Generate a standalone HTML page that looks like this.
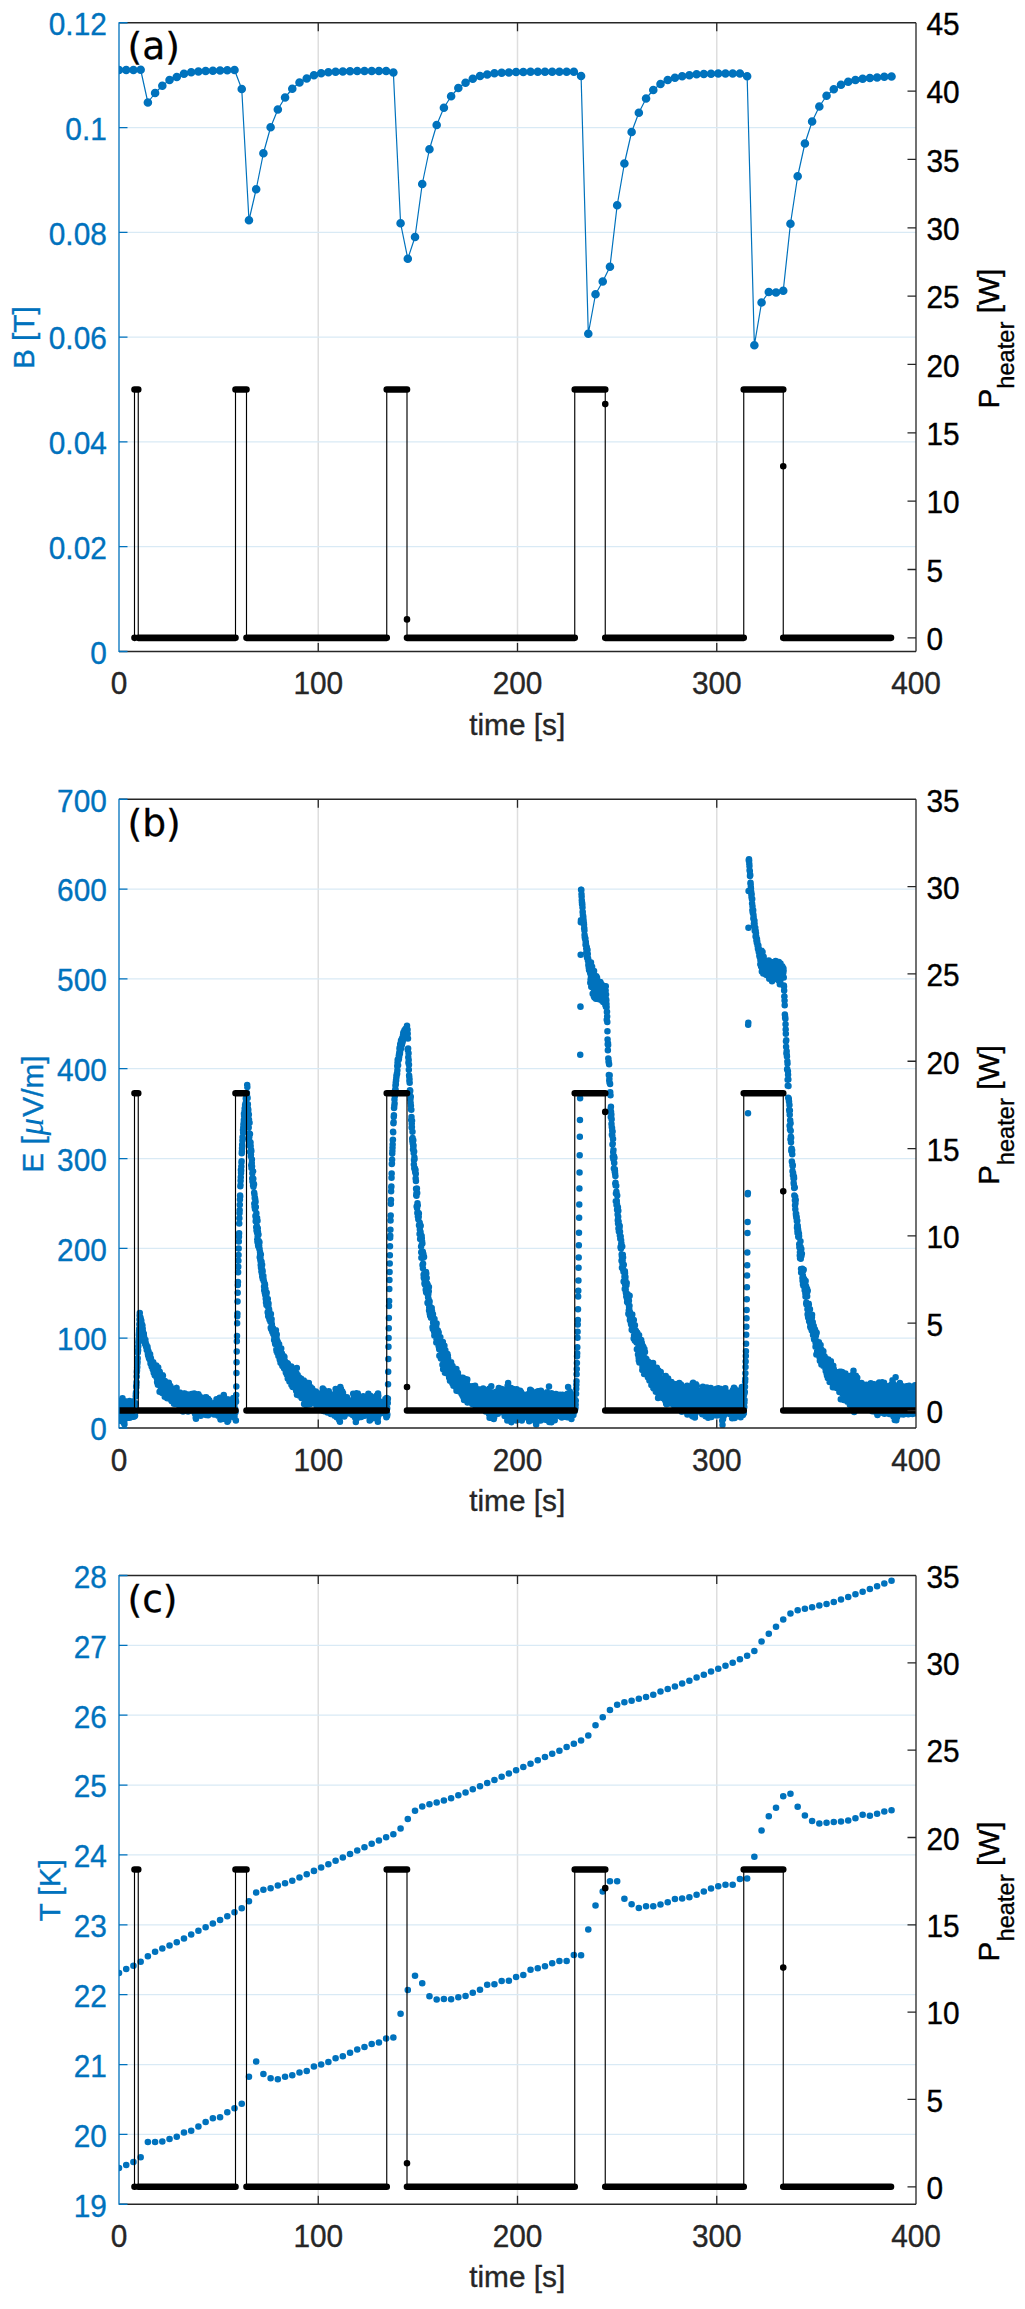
<!DOCTYPE html>
<html lang="en"><head><meta charset="utf-8"><title>Heater pulse response</title>
<style>html,body{margin:0;padding:0;background:#fff}svg{display:block}text{font-family:"Liberation Sans",Arial,Helvetica,sans-serif}.tk{font-size:29.8px;stroke-width:0.35px}.pl{font-family:"DejaVu Sans",Verdana,sans-serif;font-size:37.6px;fill:#000;stroke:#000;stroke-width:0.3px}.mu{font-family:"Liberation Serif","DejaVu Serif",serif;font-style:italic}</style></head><body>
<svg width="1025" height="2309" viewBox="0 0 1025 2309">
<rect width="1025" height="2309" fill="#fff"/>
<g id="panel-a">
<clipPath id="clip-a"><rect x="119" y="22.75" width="797" height="628.75"/></clipPath>
<path d="M318.25 22.75V651.5M517.5 22.75V651.5M716.75 22.75V651.5" stroke="#DEDEDE" stroke-width="1.5" fill="none"/>
<path d="M119 546.71H916M119 441.92H916M119 337.12H916M119 232.33H916M119 127.54H916" stroke="#D9EAF5" stroke-width="1.2" fill="none"/>
<g clip-path="url(#clip-a)">
<path d="M119 70 L126.22 70 L133.44 70 L140.66 69.75 L147.88 102.5 L155.1 93 L162.32 85.75 L169.54 80 L176.76 77 L183.98 73.75 L191.2 72.25 L198.42 71.5 L205.64 71 L212.86 70.75 L220.08 70.5 L227.3 70.25 L234.52 70 L241.74 89 L248.96 220.25 L256.18 189.25 L263.4 153.25 L270.62 127.25 L277.84 109.5 L285.06 97.5 L292.28 88.75 L299.5 82.5 L306.72 78.5 L313.94 75.25 L321.16 73.25 L328.38 72.25 L335.6 71.75 L342.82 71.5 L350.04 71.25 L357.26 71 L364.48 71 L371.7 71 L378.92 71 L386.14 71 L393.36 72.5 L400.58 223.25 L407.8 258.75 L415.02 237 L422.24 184 L429.46 149.25 L436.68 125 L443.9 107.75 L451.12 96.25 L458.34 88 L465.56 82.75 L472.78 78.75 L480 76 L487.22 74.5 L494.44 73.25 L501.66 72.75 L508.88 72.5 L516.1 72 L523.32 72 L530.54 71.75 L537.76 71.75 L544.98 71.75 L552.2 71.75 L559.42 71.75 L566.64 71.75 L573.86 71.75 L581.08 76 L588.3 333.75 L595.52 294.25 L602.74 281.5 L609.96 266.75 L617.18 205.25 L624.4 163.5 L631.62 132 L638.84 112.75 L646.06 98.5 L653.28 90 L660.5 84 L667.72 80 L674.94 77.75 L682.16 76.25 L689.38 75.25 L696.6 74.25 L703.82 74 L711.04 73.75 L718.26 73.5 L725.48 73.5 L732.7 73.5 L739.92 73.5 L747.14 76.25 L754.36 345.25 L761.58 302.5 L768.8 292 L776.02 292.5 L783.24 290.75 L790.46 223.75 L797.68 176.25 L804.9 143.5 L812.12 121.5 L819.34 106.5 L826.56 95.75 L833.78 89.25 L841 84.75 L848.22 81.75 L855.44 80 L862.66 78.75 L869.88 78 L877.1 77.5 L884.32 76.75 L891.54 76.5" stroke="#0072BD" stroke-width="1.2" fill="none" stroke-linejoin="round"/>
<path d="M119 70h0M126.22 70h0M133.44 70h0M140.66 69.75h0M147.88 102.5h0M155.1 93h0M162.32 85.75h0M169.54 80h0M176.76 77h0M183.98 73.75h0M191.2 72.25h0M198.42 71.5h0M205.64 71h0M212.86 70.75h0M220.08 70.5h0M227.3 70.25h0M234.52 70h0M241.74 89h0M248.96 220.25h0M256.18 189.25h0M263.4 153.25h0M270.62 127.25h0M277.84 109.5h0M285.06 97.5h0M292.28 88.75h0M299.5 82.5h0M306.72 78.5h0M313.94 75.25h0M321.16 73.25h0M328.38 72.25h0M335.6 71.75h0M342.82 71.5h0M350.04 71.25h0M357.26 71h0M364.48 71h0M371.7 71h0M378.92 71h0M386.14 71h0M393.36 72.5h0M400.58 223.25h0M407.8 258.75h0M415.02 237h0M422.24 184h0M429.46 149.25h0M436.68 125h0M443.9 107.75h0M451.12 96.25h0M458.34 88h0M465.56 82.75h0M472.78 78.75h0M480 76h0M487.22 74.5h0M494.44 73.25h0M501.66 72.75h0M508.88 72.5h0M516.1 72h0M523.32 72h0M530.54 71.75h0M537.76 71.75h0M544.98 71.75h0M552.2 71.75h0M559.42 71.75h0M566.64 71.75h0M573.86 71.75h0M581.08 76h0M588.3 333.75h0M595.52 294.25h0M602.74 281.5h0M609.96 266.75h0M617.18 205.25h0M624.4 163.5h0M631.62 132h0M638.84 112.75h0M646.06 98.5h0M653.28 90h0M660.5 84h0M667.72 80h0M674.94 77.75h0M682.16 76.25h0M689.38 75.25h0M696.6 74.25h0M703.82 74h0M711.04 73.75h0M718.26 73.5h0M725.48 73.5h0M732.7 73.5h0M739.92 73.5h0M747.14 76.25h0M754.36 345.25h0M761.58 302.5h0M768.8 292h0M776.02 292.5h0M783.24 290.75h0M790.46 223.75h0M797.68 176.25h0M804.9 143.5h0M812.12 121.5h0M819.34 106.5h0M826.56 95.75h0M833.78 89.25h0M841 84.75h0M848.22 81.75h0M855.44 80h0M862.66 78.75h0M869.88 78h0M877.1 77.5h0M884.32 76.75h0M891.54 76.5h0" stroke="#0072BD" stroke-width="8.6" stroke-linecap="round" fill="none"/>
<path d="M134.5 637.83V389.48M138.25 389.48V637.83M235.5 637.83V389.48M246.5 389.48V637.83M386.75 637.83V389.48M407 389.48V637.83M574.75 637.83V389.48M605.25 389.48V637.83M743.75 637.83V389.48M783.25 389.48V637.83" stroke="#000" stroke-width="1.15" fill="none"/>
<path d="M134.75 637.83H134.5M134.5 389.48H138.25M138.25 637.83H235.5M235.5 389.48H246.5M246.5 637.83H386.75M386.75 389.48H407M407 619.38h0M407 637.83H574.75M574.75 389.48H605.25M605.25 404.1h0M605.25 637.83H743.75M743.75 389.48H783.25M783.25 466.29h0M783.25 637.83H891" stroke="#000" stroke-width="6.6" stroke-linecap="round" fill="none"/>
</g>
<path d="M119 22.75H916M119 651.5H916M916 22.75V651.5M318.25 22.75v8.5M318.25 651.5v-8.5M517.5 22.75v8.5M517.5 651.5v-8.5M716.75 22.75v8.5M716.75 651.5v-8.5M916 637.83h-8.5M916 569.49h-8.5M916 501.15h-8.5M916 432.8h-8.5M916 364.46h-8.5M916 296.12h-8.5M916 227.78h-8.5M916 159.43h-8.5M916 91.09h-8.5M916 22.75h-8.5" stroke="#262626" stroke-width="1.3" fill="none"/>
<path d="M119 22.15V652.1M119 651.5h8.5M119 546.71h8.5M119 441.92h8.5M119 337.12h8.5M119 232.33h8.5M119 127.54h8.5M119 22.75h8.5" stroke="#0072BD" stroke-width="1.3" fill="none"/>
<g class="tk" fill="#0072BD" stroke="#0072BD" text-anchor="end">
<text transform="translate(106.8 663.8) scale(1 1.03)">0</text>
<text transform="translate(106.8 559.01) scale(1 1.03)">0.02</text>
<text transform="translate(106.8 454.22) scale(1 1.03)">0.04</text>
<text transform="translate(106.8 349.43) scale(1 1.03)">0.06</text>
<text transform="translate(106.8 244.63) scale(1 1.03)">0.08</text>
<text transform="translate(106.8 139.84) scale(1 1.03)">0.1</text>
<text transform="translate(106.8 35.05) scale(1 1.03)">0.12</text>
</g>
<g class="tk" fill="#000" stroke="#000">
<text transform="translate(926.4 650.13) scale(1 1.03)">0</text>
<text transform="translate(926.4 581.79) scale(1 1.03)">5</text>
<text transform="translate(926.4 513.45) scale(1 1.03)">10</text>
<text transform="translate(926.4 445.1) scale(1 1.03)">15</text>
<text transform="translate(926.4 376.76) scale(1 1.03)">20</text>
<text transform="translate(926.4 308.42) scale(1 1.03)">25</text>
<text transform="translate(926.4 240.08) scale(1 1.03)">30</text>
<text transform="translate(926.4 171.73) scale(1 1.03)">35</text>
<text transform="translate(926.4 103.39) scale(1 1.03)">40</text>
<text transform="translate(926.4 35.05) scale(1 1.03)">45</text>
</g>
<g class="tk" fill="#262626" stroke="#262626" text-anchor="middle">
<text transform="translate(119 694.2) scale(1 1.03)">0</text>
<text transform="translate(318.25 694.2) scale(1 1.03)">100</text>
<text transform="translate(517.5 694.2) scale(1 1.03)">200</text>
<text transform="translate(716.75 694.2) scale(1 1.03)">300</text>
<text transform="translate(916 694.2) scale(1 1.03)">400</text>
<text x="517.2" y="734.6">time [s]</text>
</g>
<text class="tk" fill="#0072BD" stroke="#0072BD" text-anchor="middle" transform="translate(34 337.62) rotate(-90)">B [T]</text>
<text class="tk" fill="#000" stroke="#000" text-anchor="middle" transform="translate(999.1 338.62) rotate(-90)">P<tspan dy="14.7" font-size="23.7">heater</tspan><tspan dy="-14.7"> [W]</tspan></text>
<text class="pl" x="127.5" y="59.05">(a)</text>
</g>
<g id="panel-b">
<clipPath id="clip-b"><rect x="119" y="799.25" width="797" height="628.75"/></clipPath>
<path d="M318.25 799.25V1428M517.5 799.25V1428M716.75 799.25V1428" stroke="#DEDEDE" stroke-width="1.5" fill="none"/>
<path d="M119 1338.18H916M119 1248.36H916M119 1158.54H916M119 1068.71H916M119 978.89H916M119 889.07H916" stroke="#D9EAF5" stroke-width="1.2" fill="none"/>
<g clip-path="url(#clip-b)">
<path d="M119 1404.64h0M119.14 1414.92h0M119.28 1416.86h0M119.42 1407.33h0M119.56 1408.75h0M119.7 1410.31h0M119.84 1417.97h0M119.98 1409.9h0M120.12 1411.48h0M120.26 1405.29h0M120.39 1413.66h0M120.53 1406.32h0M120.67 1420.73h0M120.81 1402.22h0M120.95 1404.48h0M121.09 1400.51h0M121.23 1419.05h0M121.37 1410.29h0M121.51 1417.42h0M121.65 1416.66h0M121.79 1416.04h0M121.93 1401.32h0M122.07 1416.62h0M122.21 1417.21h0M122.35 1417.08h0M122.49 1398.37h0M122.63 1419.17h0M122.77 1418.11h0M122.91 1420.68h0M123.04 1413.84h0M123.18 1417.31h0M123.32 1406.38h0M123.46 1420.87h0M123.6 1408.95h0M123.74 1423h0M123.88 1418.38h0M124.02 1414.27h0M124.16 1406.55h0M124.3 1422.09h0M124.44 1424.25h0M124.58 1414.37h0M124.72 1405.27h0M124.86 1406.49h0M125 1401.79h0M125.14 1403.61h0M125.28 1410.29h0M125.42 1401.28h0M125.56 1407.8h0M125.69 1416.65h0M125.83 1410.97h0M125.97 1410.2h0M126.11 1414.05h0M126.25 1403.48h0M126.39 1412.59h0M126.53 1405.27h0M126.67 1410.32h0M126.81 1404.33h0M126.95 1417.03h0M127.09 1414.95h0M127.23 1414.41h0M127.37 1417.63h0M127.51 1407.85h0M127.65 1416.34h0M127.79 1405.96h0M127.93 1408.7h0M128.07 1407.77h0M128.21 1411.9h0M128.34 1407.57h0M128.48 1406.95h0M128.62 1413.54h0M128.76 1405.04h0M128.9 1408.14h0M129.04 1404.59h0M129.18 1408.98h0M129.32 1410.73h0M129.46 1401.11h0M129.6 1413.79h0M129.74 1417.71h0M129.88 1411.63h0M130.02 1407.39h0M130.16 1413.58h0M130.3 1407.57h0M130.44 1405.97h0M130.58 1412.19h0M130.72 1407.91h0M130.86 1405.98h0M130.99 1403.13h0M131.13 1410.79h0M131.27 1405.56h0M131.41 1409.12h0M131.55 1410.86h0M131.69 1414.59h0M131.83 1405.57h0M131.97 1414.85h0M132.11 1407.23h0M132.25 1407.46h0M132.39 1415.03h0M132.53 1413.64h0M132.67 1412.77h0M132.81 1414.81h0M132.95 1407.65h0M133.09 1408.4h0M133.23 1413.99h0M133.37 1401.35h0M133.51 1412.77h0M133.64 1407.3h0M133.78 1416.81h0M133.92 1406.83h0M134.06 1410.91h0M134.2 1415.13h0M134.34 1410.56h0M134.48 1406.39h0M134.62 1416.33h0M134.76 1412.2h0M134.9 1410.05h0M135.04 1415.67h0M135.18 1412.53h0M135.32 1408.51h0M135.46 1404.2h0M135.6 1403.16h0M135.74 1396.18h0M135.88 1393.66h0M136.02 1392.46h0M136.16 1386.36h0M136.29 1387.17h0M136.43 1385h0M136.57 1382.23h0M136.71 1376.44h0M136.85 1371.94h0M136.99 1370.72h0M137.13 1367.78h0M137.27 1366.98h0M137.41 1363.26h0M137.55 1361.99h0M137.69 1358.22h0M137.83 1352.41h0M137.97 1350.32h0M138.11 1350.22h0M138.25 1346.35h0M138.39 1342.17h0M138.53 1340.83h0M138.67 1339.1h0M138.81 1334.95h0M138.94 1333.25h0M139.08 1330.86h0M139.22 1328.8h0M139.36 1324.21h0M139.5 1319.52h0M139.64 1315.4h0M139.78 1312.89h0M139.92 1317.82h0M140.06 1318.47h0M140.2 1322.89h0M140.34 1322.48h0M140.48 1317.58h0M140.62 1319.97h0M140.76 1319.48h0M140.9 1319.17h0M141.04 1324.99h0M141.18 1323.53h0M141.32 1320.83h0M141.46 1328.1h0M141.59 1327.3h0M141.73 1325.2h0M141.87 1328.1h0M142.01 1324.59h0M142.15 1326.36h0M142.29 1330.02h0M142.43 1325.38h0M142.57 1328.74h0M142.71 1328.74h0M142.85 1331.34h0M142.99 1333.79h0M143.13 1335h0M143.27 1337.24h0M143.41 1338.31h0M143.55 1333.65h0M143.69 1335.84h0M143.83 1333.7h0M143.97 1336.55h0M144.11 1336.91h0M144.24 1338.56h0M144.38 1341.44h0M144.52 1339.35h0M144.66 1341.96h0M144.8 1341.67h0M144.94 1340.95h0M145.08 1343.98h0M145.22 1342.45h0M145.36 1339.8h0M145.5 1343.27h0M145.64 1342.59h0M145.78 1345.43h0M145.92 1345.49h0M146.06 1345.45h0M146.2 1347.05h0M146.34 1344.67h0M146.48 1345.99h0M146.62 1347.29h0M146.76 1349.96h0M146.9 1346.58h0M147.03 1349.56h0M147.17 1350.11h0M147.31 1347.62h0M147.45 1346.81h0M147.59 1347.94h0M147.73 1350.44h0M147.87 1353.87h0M148.01 1350.19h0M148.15 1355.41h0M148.29 1350.97h0M148.43 1353.47h0M148.57 1351.59h0M148.71 1356.98h0M148.85 1354.64h0M148.99 1358.2h0M149.13 1357.41h0M149.27 1354.85h0M149.41 1359.09h0M149.55 1354.35h0M149.68 1358.92h0M149.82 1356.88h0M149.96 1359.66h0M150.1 1354.25h0M150.24 1359.87h0M150.38 1361.36h0M150.52 1363.47h0M150.66 1357.64h0M150.8 1362.1h0M150.94 1358.42h0M151.08 1359.7h0M151.22 1364.37h0M151.36 1362.03h0M151.5 1361.13h0M151.64 1366.58h0M151.78 1363.89h0M151.92 1365.41h0M152.06 1365.65h0M152.2 1365.45h0M152.33 1366.73h0M152.47 1363.24h0M152.61 1363.07h0M152.75 1369.36h0M152.89 1362.91h0M153.03 1367.46h0M153.17 1362.34h0M153.31 1370.28h0M153.45 1366.43h0M153.59 1363.56h0M153.73 1372.73h0M153.87 1372.2h0M154.01 1372.03h0M154.15 1369.07h0M154.29 1369.9h0M154.43 1373.12h0M154.57 1370.91h0M154.71 1375.17h0M154.85 1372.66h0M154.98 1369.54h0M155.12 1366.19h0M155.26 1365.62h0M155.4 1367.1h0M155.54 1366.03h0M155.68 1376.03h0M155.82 1373.27h0M155.96 1370.36h0M156.1 1373.82h0M156.24 1365.59h0M156.38 1369.93h0M156.52 1369.26h0M156.66 1374.42h0M156.8 1378.04h0M156.94 1368.34h0M157.08 1382h0M157.22 1376.11h0M157.36 1381.48h0M157.5 1383.37h0M157.63 1381.73h0M157.77 1373.95h0M157.91 1384.87h0M158.05 1368.02h0M158.19 1367.52h0M158.33 1381.03h0M158.47 1382.4h0M158.61 1375.85h0M158.75 1382.45h0M158.89 1376.73h0M159.03 1378.34h0M159.17 1382.93h0M159.31 1383.96h0M159.45 1377.63h0M159.59 1391.84h0M159.73 1371.71h0M159.87 1375.73h0M160.01 1381.59h0M160.15 1381.49h0M160.28 1386.31h0M160.42 1374.07h0M160.56 1382.22h0M160.7 1391.16h0M160.84 1375.92h0M160.98 1381.76h0M161.12 1376.42h0M161.26 1382.23h0M161.4 1385.4h0M161.54 1380.85h0M161.68 1377.59h0M161.82 1379.19h0M161.96 1385.18h0M162.1 1388.68h0M162.24 1393.05h0M162.38 1388.67h0M162.52 1386.83h0M162.66 1375.23h0M162.8 1389.57h0M162.93 1375.84h0M163.07 1380.46h0M163.21 1390.5h0M163.35 1385.96h0M163.49 1380.74h0M163.63 1388.26h0M163.77 1389.6h0M163.91 1386.33h0M164.05 1391.22h0M164.19 1387.23h0M164.33 1389.48h0M164.47 1390.8h0M164.61 1386.95h0M164.75 1396.76h0M164.89 1380.97h0M165.03 1395.4h0M165.17 1392.48h0M165.31 1388.64h0M165.45 1390.6h0M165.58 1393.38h0M165.72 1391h0M165.86 1389.89h0M166 1386.18h0M166.14 1394.81h0M166.28 1385.68h0M166.42 1394.72h0M166.56 1390.61h0M166.7 1388.58h0M166.84 1388.89h0M166.98 1397.93h0M167.12 1387.81h0M167.26 1398.22h0M167.4 1391.16h0M167.54 1390.47h0M167.68 1392.2h0M167.82 1388.34h0M167.96 1384.52h0M168.1 1389.01h0M168.23 1392.34h0M168.37 1394.14h0M168.51 1390.81h0M168.65 1392.38h0M168.79 1382.76h0M168.93 1391.01h0M169.07 1391.48h0M169.21 1393.42h0M169.35 1388.39h0M169.49 1396.41h0M169.63 1393.38h0M169.77 1396.36h0M169.91 1391.6h0M170.05 1396.74h0M170.19 1388.51h0M170.33 1385.91h0M170.47 1387.58h0M170.61 1390.89h0M170.75 1387.24h0M170.88 1391.28h0M171.02 1399.74h0M171.16 1398.01h0M171.3 1390.06h0M171.44 1393.4h0M171.58 1401.05h0M171.72 1396.58h0M171.86 1396.43h0M172 1396.09h0M172.14 1399.15h0M172.28 1389.68h0M172.42 1392.15h0M172.56 1388.79h0M172.7 1396.74h0M172.84 1393.6h0M172.98 1395.26h0M173.12 1390.06h0M173.26 1395.01h0M173.4 1393.37h0M173.53 1402.59h0M173.67 1399.65h0M173.81 1399.03h0M173.95 1403.64h0M174.09 1397.67h0M174.23 1402.09h0M174.37 1395.55h0M174.51 1399.32h0M174.65 1389.69h0M174.79 1392.96h0M174.93 1395.1h0M175.07 1393.14h0M175.21 1397.63h0M175.35 1403.75h0M175.49 1393.52h0M175.63 1403.63h0M175.77 1403.35h0M175.91 1395.91h0M176.05 1397.61h0M176.18 1396.37h0M176.32 1392.57h0M176.46 1388.09h0M176.6 1388h0M176.74 1395.93h0M176.88 1393.86h0M177.02 1402.87h0M177.16 1396.74h0M177.3 1396.09h0M177.44 1396.41h0M177.58 1394.01h0M177.72 1395.56h0M177.86 1402.22h0M178 1396.04h0M178.14 1394.54h0M178.28 1393.62h0M178.42 1403.14h0M178.56 1393.72h0M178.7 1402.34h0M178.83 1403.22h0M178.97 1399.62h0M179.11 1401.39h0M179.25 1393.26h0M179.39 1400.34h0M179.53 1406.6h0M179.67 1392.4h0M179.81 1398.81h0M179.95 1396.72h0M180.09 1404.58h0M180.23 1405.33h0M180.37 1402.14h0M180.51 1395.97h0M180.65 1404.15h0M180.79 1400.43h0M180.93 1402.09h0M181.07 1401.57h0M181.21 1395.53h0M181.35 1396.81h0M181.48 1401.23h0M181.62 1401.71h0M181.76 1402.04h0M181.9 1401.88h0M182.04 1401.02h0M182.18 1406.11h0M182.32 1396.71h0M182.46 1410.92h0M182.6 1401.09h0M182.74 1394.41h0M182.88 1395.04h0M183.02 1411.51h0M183.16 1404.18h0M183.3 1405.46h0M183.44 1406.65h0M183.58 1405.8h0M183.72 1408.32h0M183.86 1393.54h0M184 1400.5h0M184.13 1404.13h0M184.27 1408.33h0M184.41 1396h0M184.55 1406.88h0M184.69 1395.69h0M184.83 1393.43h0M184.97 1394.71h0M185.11 1407.54h0M185.25 1409.28h0M185.39 1405.28h0M185.53 1410.8h0M185.67 1408.2h0M185.81 1398.44h0M185.95 1402.55h0M186.09 1397.48h0M186.23 1401.75h0M186.37 1408.55h0M186.51 1401.02h0M186.65 1404.07h0M186.78 1398.33h0M186.92 1394.18h0M187.06 1406.03h0M187.2 1400.37h0M187.34 1401.25h0M187.48 1406.13h0M187.62 1398.36h0M187.76 1407.37h0M187.9 1406.53h0M188.04 1411.62h0M188.18 1401.53h0M188.32 1395.27h0M188.46 1398.8h0M188.6 1399.05h0M188.74 1400.04h0M188.88 1408.7h0M189.02 1409.61h0M189.16 1410.18h0M189.3 1399.99h0M189.43 1401.75h0M189.57 1402.32h0M189.71 1400.31h0M189.85 1404.94h0M189.99 1407.65h0M190.13 1408.06h0M190.27 1405.99h0M190.41 1403.19h0M190.55 1400.43h0M190.69 1400.73h0M190.83 1405.4h0M190.97 1402.16h0M191.11 1404.77h0M191.25 1408.13h0M191.39 1402.15h0M191.53 1394.11h0M191.67 1398.57h0M191.81 1400.47h0M191.95 1397h0M192.08 1395.75h0M192.22 1397.61h0M192.36 1403.28h0M192.5 1410.71h0M192.64 1407.76h0M192.78 1397.64h0M192.92 1400.92h0M193.06 1401.84h0M193.2 1406.39h0M193.34 1405.95h0M193.48 1403.56h0M193.62 1410.53h0M193.76 1396.32h0M193.9 1394.74h0M194.04 1401.48h0M194.18 1393.5h0M194.32 1405.75h0M194.46 1404.31h0M194.6 1400.37h0M194.73 1405.11h0M194.87 1413.46h0M195.01 1394.08h0M195.15 1396.98h0M195.29 1402.52h0M195.43 1395.63h0M195.57 1414.84h0M195.71 1417.82h0M195.85 1406.13h0M195.99 1418.77h0M196.13 1399.98h0M196.27 1415.66h0M196.41 1403.25h0M196.55 1412.21h0M196.69 1410.27h0M196.83 1412.17h0M196.97 1409.5h0M197.11 1409.15h0M197.25 1400.72h0M197.38 1410.73h0M197.52 1406.43h0M197.66 1409.96h0M197.8 1411.29h0M197.94 1402.88h0M198.08 1415.11h0M198.22 1397.26h0M198.36 1394.17h0M198.5 1410.3h0M198.64 1413.1h0M198.78 1397.45h0M198.92 1410.1h0M199.06 1408.8h0M199.2 1413.12h0M199.34 1401.27h0M199.48 1411.51h0M199.62 1396.34h0M199.76 1403.85h0M199.9 1409.63h0M200.03 1413.62h0M200.17 1400.46h0M200.31 1413.15h0M200.45 1412.11h0M200.59 1406.84h0M200.73 1415.75h0M200.87 1407.45h0M201.01 1397.86h0M201.15 1406.29h0M201.29 1398.49h0M201.43 1406.57h0M201.57 1401.39h0M201.71 1398.39h0M201.85 1408.55h0M201.99 1406.12h0M202.13 1410.77h0M202.27 1414.63h0M202.41 1398.87h0M202.55 1401.72h0M202.69 1412.35h0M202.82 1405.72h0M202.96 1409.42h0M203.1 1410.54h0M203.24 1401.32h0M203.38 1405.49h0M203.52 1402.78h0M203.66 1411.29h0M203.8 1403.62h0M203.94 1414.22h0M204.08 1397.72h0M204.22 1400.09h0M204.36 1402.78h0M204.5 1402.16h0M204.64 1405.44h0M204.78 1414.26h0M204.92 1404.96h0M205.06 1411.22h0M205.2 1402.17h0M205.34 1398.1h0M205.47 1398.92h0M205.61 1405.83h0M205.75 1405.8h0M205.89 1414.04h0M206.03 1414.96h0M206.17 1397.28h0M206.31 1411.34h0M206.45 1408.52h0M206.59 1405.79h0M206.73 1406.79h0M206.87 1402.19h0M207.01 1410.68h0M207.15 1402.79h0M207.29 1409.69h0M207.43 1400.62h0M207.57 1403.55h0M207.71 1405.11h0M207.85 1403.37h0M207.99 1413.9h0M208.12 1415.33h0M208.26 1399.01h0M208.4 1410.25h0M208.54 1411.6h0M208.68 1409.08h0M208.82 1402.18h0M208.96 1407.29h0M209.1 1411.04h0M209.24 1402.2h0M209.38 1400.58h0M209.52 1404.22h0M209.66 1408.62h0M209.8 1409.16h0M209.94 1409.05h0M210.08 1405.58h0M210.22 1408.78h0M210.36 1409.13h0M210.5 1410.6h0M210.64 1406.89h0M210.77 1405.31h0M210.91 1404.37h0M211.05 1412.95h0M211.19 1411.41h0M211.33 1411.36h0M211.47 1406.14h0M211.61 1407.79h0M211.75 1409.39h0M211.89 1406.99h0M212.03 1406.5h0M212.17 1409h0M212.31 1412.03h0M212.45 1404.41h0M212.59 1404.47h0M212.73 1413.43h0M212.87 1404.07h0M213.01 1408.41h0M213.15 1403.58h0M213.29 1410.29h0M213.42 1407.69h0M213.56 1413.02h0M213.7 1403.7h0M213.84 1410.64h0M213.98 1414.52h0M214.12 1414.19h0M214.26 1404.32h0M214.4 1414.09h0M214.54 1404.95h0M214.68 1409.81h0M214.82 1410.51h0M214.96 1410.4h0M215.1 1402.89h0M215.24 1403.32h0M215.38 1407.04h0M215.52 1407.53h0M215.66 1405.73h0M215.8 1409.87h0M215.94 1411.93h0M216.07 1407.26h0M216.21 1410.76h0M216.35 1403.32h0M216.49 1399.24h0M216.63 1402.13h0M216.77 1399.47h0M216.91 1404.77h0M217.05 1410.24h0M217.19 1413.68h0M217.33 1413.84h0M217.47 1407.38h0M217.61 1405.65h0M217.75 1410.65h0M217.89 1406.01h0M218.03 1404.94h0M218.17 1415.82h0M218.31 1408.84h0M218.45 1400.38h0M218.59 1400.53h0M218.72 1402.58h0M218.86 1409.17h0M219 1399.54h0M219.14 1413.43h0M219.28 1399.56h0M219.42 1404.8h0M219.56 1410.54h0M219.7 1397.7h0M219.84 1405.94h0M219.98 1407.34h0M220.12 1415.38h0M220.26 1418.57h0M220.4 1405.62h0M220.54 1419.6h0M220.68 1417.9h0M220.82 1418.52h0M220.96 1400.02h0M221.1 1415.45h0M221.24 1415.27h0M221.37 1416.86h0M221.51 1409.19h0M221.65 1412.44h0M221.79 1411.92h0M221.93 1411.47h0M222.07 1398.87h0M222.21 1402.6h0M222.35 1417.11h0M222.49 1418.29h0M222.63 1413.7h0M222.77 1407.42h0M222.91 1404.55h0M223.05 1406.08h0M223.19 1405.6h0M223.33 1415.32h0M223.47 1417.89h0M223.61 1399.79h0M223.75 1394.91h0M223.89 1395.71h0M224.02 1415.27h0M224.16 1399.5h0M224.3 1412.48h0M224.44 1416.28h0M224.58 1406.18h0M224.72 1416.43h0M224.86 1398.91h0M225 1409.56h0M225.14 1402.24h0M225.28 1418.96h0M225.42 1419.26h0M225.56 1399.53h0M225.7 1401.61h0M225.84 1400.39h0M225.98 1401.97h0M226.12 1409.42h0M226.26 1409.39h0M226.4 1403.3h0M226.54 1410.84h0M226.67 1399.37h0M226.81 1411.5h0M226.95 1419h0M227.09 1410.33h0M227.23 1415.19h0M227.37 1421.86h0M227.51 1417.76h0M227.65 1405.09h0M227.79 1418.37h0M227.93 1402.39h0M228.07 1409.3h0M228.21 1420.47h0M228.35 1399.5h0M228.49 1400.06h0M228.63 1404.97h0M228.77 1409.2h0M228.91 1403.44h0M229.05 1414.67h0M229.19 1411.3h0M229.32 1416.47h0M229.46 1407.32h0M229.6 1413.8h0M229.74 1406h0M229.88 1408.63h0M230.02 1406.77h0M230.16 1406.2h0M230.3 1403.15h0M230.44 1407.77h0M230.58 1404.06h0M230.72 1413.83h0M230.86 1416.3h0M231 1404.71h0M231.14 1411.68h0M231.28 1413.43h0M231.42 1414.23h0M231.56 1406.52h0M231.7 1411.33h0M231.84 1402.17h0M231.97 1408.89h0M232.11 1408.58h0M232.25 1414.92h0M232.39 1402.98h0M232.53 1405.93h0M232.67 1409.45h0M232.81 1409.64h0M232.95 1415.44h0M233.09 1410.43h0M233.23 1412.6h0M233.37 1397.98h0M233.51 1415.93h0M233.65 1407.46h0M233.79 1409.95h0M233.93 1416.07h0M234.07 1417.39h0M234.21 1415.87h0M234.35 1404.69h0M234.49 1416.74h0M234.62 1398.89h0M234.76 1413.83h0M234.9 1412.32h0M235.04 1409.86h0M235.18 1408.92h0M235.32 1411.75h0M235.46 1399.2h0M235.6 1412.05h0M235.74 1400.03h0M235.88 1420.48h0M236.02 1401.8h0M236.16 1395.04h0M236.3 1386.55h0M236.44 1373.12h0M236.58 1362.25h0M236.72 1351.42h0M236.86 1341.35h0M237 1335.9h0M237.14 1323.23h0M237.27 1316.23h0M237.41 1313.76h0M237.55 1301.62h0M237.69 1292.68h0M237.83 1284.98h0M237.97 1282.06h0M238.11 1272.19h0M238.25 1266.72h0M238.39 1260.68h0M238.53 1254.89h0M238.67 1248.47h0M238.81 1241.48h0M238.95 1236.64h0M239.09 1233.23h0M239.23 1223.54h0M239.37 1218.17h0M239.51 1212.97h0M239.65 1210.13h0M239.79 1204.77h0M239.92 1199.49h0M240.06 1195.47h0M240.2 1196.25h0M240.34 1186.16h0M240.48 1185.18h0M240.62 1180.81h0M240.76 1177.37h0M240.9 1169.93h0M241.04 1173.05h0M241.18 1170.6h0M241.32 1166.56h0M241.46 1162.28h0M241.6 1161.22h0M241.74 1153.32h0M241.88 1151.6h0M242.02 1148.3h0M242.16 1144.83h0M242.3 1146.06h0M242.44 1140.38h0M242.57 1137.17h0M242.71 1138.06h0M242.85 1138.74h0M242.99 1130.07h0M243.13 1132.77h0M243.27 1127.43h0M243.41 1124.45h0M243.55 1124.27h0M243.69 1122.64h0M243.83 1120.11h0M243.97 1113.74h0M244.11 1116.1h0M244.25 1119.86h0M244.39 1114.12h0M244.53 1111.16h0M244.67 1108.39h0M244.81 1108.56h0M244.95 1108.85h0M245.09 1105.03h0M245.22 1108.84h0M245.36 1104.03h0M245.5 1104.07h0M245.64 1103.13h0M245.78 1098.54h0M245.92 1098.73h0M246.06 1099.85h0M246.2 1099.2h0M246.34 1096.83h0M246.48 1096.68h0M246.62 1096.4h0M246.76 1097.26h0M246.9 1092.88h0M247.04 1095.88h0M247.18 1084.88h0M247.32 1086.89h0M247.46 1106.19h0M247.6 1098.05h0M247.74 1105.12h0M247.87 1104.37h0M248.01 1108.67h0M248.15 1111.85h0M248.29 1109.85h0M248.43 1116.11h0M248.57 1114.75h0M248.71 1127.46h0M248.85 1114.62h0M248.99 1119.81h0M249.13 1123.17h0M249.27 1136.97h0M249.41 1133.38h0M249.55 1122.77h0M249.69 1141.43h0M249.83 1145.67h0M249.97 1133.95h0M250.11 1152.05h0M250.25 1145.63h0M250.39 1144.88h0M250.52 1142.46h0M250.66 1145.98h0M250.8 1156.18h0M250.94 1154.67h0M251.08 1149.69h0M251.22 1165.28h0M251.36 1151.02h0M251.5 1168.02h0M251.64 1165.92h0M251.78 1162.92h0M251.92 1159.61h0M252.06 1166.31h0M252.2 1178.43h0M252.34 1173.28h0M252.48 1181.42h0M252.62 1179.21h0M252.76 1179.25h0M252.9 1179.93h0M253.04 1185.62h0M253.17 1171.33h0M253.31 1178.71h0M253.45 1186.86h0M253.59 1186.08h0M253.73 1183.37h0M253.87 1184.69h0M254.01 1184.14h0M254.15 1192.76h0M254.29 1203.69h0M254.43 1194.32h0M254.57 1206.75h0M254.71 1197.96h0M254.85 1197.47h0M254.99 1209.02h0M255.13 1199.07h0M255.27 1199.95h0M255.41 1215.95h0M255.55 1201.83h0M255.69 1221.14h0M255.82 1207.08h0M255.96 1218.38h0M256.1 1221.02h0M256.24 1227.28h0M256.38 1213.3h0M256.52 1230.41h0M256.66 1221.24h0M256.8 1226.12h0M256.94 1232.53h0M257.08 1218.09h0M257.22 1239.39h0M257.36 1241.8h0M257.5 1220.83h0M257.64 1236.15h0M257.78 1228.27h0M257.92 1231.8h0M258.06 1244.94h0M258.2 1245.93h0M258.34 1242.48h0M258.48 1234.47h0M258.61 1241.28h0M258.75 1241.09h0M258.89 1242.59h0M259.03 1246.76h0M259.17 1245.66h0M259.31 1248.63h0M259.45 1242.19h0M259.59 1248.95h0M259.73 1257.2h0M259.87 1257.46h0M260.01 1251.9h0M260.15 1254.43h0M260.29 1259.87h0M260.43 1257.8h0M260.57 1260.97h0M260.71 1265.02h0M260.85 1254.61h0M260.99 1267.85h0M261.13 1260.97h0M261.26 1263.91h0M261.4 1271.41h0M261.54 1261.73h0M261.68 1268.08h0M261.82 1265.87h0M261.96 1273.81h0M262.1 1264.78h0M262.24 1276.7h0M262.38 1275.8h0M262.52 1270.49h0M262.66 1271.24h0M262.8 1278.97h0M262.94 1278.35h0M263.08 1276.45h0M263.22 1277.81h0M263.36 1276.11h0M263.5 1278.95h0M263.64 1280.61h0M263.78 1281.27h0M263.91 1281.27h0M264.05 1286.42h0M264.19 1290.15h0M264.33 1289.29h0M264.47 1288.19h0M264.61 1284.11h0M264.75 1292.57h0M264.89 1284.09h0M265.03 1285.06h0M265.17 1294.55h0M265.31 1294.92h0M265.45 1289.03h0M265.59 1293.5h0M265.73 1298.81h0M265.87 1299.01h0M266.01 1302.49h0M266.15 1297.84h0M266.29 1295.04h0M266.43 1305.03h0M266.56 1301.67h0M266.7 1292.64h0M266.84 1303.61h0M266.98 1301.09h0M267.12 1303.91h0M267.26 1302.92h0M267.4 1306.11h0M267.54 1302.84h0M267.68 1312.24h0M267.82 1298.92h0M267.96 1305.65h0M268.1 1313.91h0M268.24 1316.25h0M268.38 1305.13h0M268.52 1303.61h0M268.66 1309.12h0M268.8 1315.18h0M268.94 1310.74h0M269.08 1309.14h0M269.21 1310.29h0M269.35 1318.94h0M269.49 1313.62h0M269.63 1319.5h0M269.77 1320.36h0M269.91 1314.62h0M270.05 1316.36h0M270.19 1315.77h0M270.33 1318.78h0M270.47 1321.76h0M270.61 1314.59h0M270.75 1327.85h0M270.89 1314.09h0M271.03 1328.65h0M271.17 1321.73h0M271.31 1327.33h0M271.45 1321.36h0M271.59 1319.35h0M271.73 1328.53h0M271.86 1324.35h0M272 1330.75h0M272.14 1327.24h0M272.28 1328.6h0M272.42 1331.94h0M272.56 1329.51h0M272.7 1331.86h0M272.84 1329.88h0M272.98 1328.31h0M273.12 1331.09h0M273.26 1333.95h0M273.4 1330.74h0M273.54 1329.47h0M273.68 1331.85h0M273.82 1330.89h0M273.96 1334.94h0M274.1 1340.09h0M274.24 1334.33h0M274.38 1337.33h0M274.51 1334.55h0M274.65 1338.59h0M274.79 1334.6h0M274.93 1339.42h0M275.07 1343.16h0M275.21 1344.05h0M275.35 1338.49h0M275.49 1340.04h0M275.63 1341.12h0M275.77 1338.66h0M275.91 1330.36h0M276.05 1339.64h0M276.19 1341.23h0M276.33 1349.57h0M276.47 1336.94h0M276.61 1351.13h0M276.75 1334.44h0M276.89 1340.07h0M277.03 1345.58h0M277.16 1349.19h0M277.3 1352.72h0M277.44 1346.61h0M277.58 1342.63h0M277.72 1341.75h0M277.86 1345.85h0M278 1345.23h0M278.14 1348.14h0M278.28 1352.38h0M278.42 1356.1h0M278.56 1355.04h0M278.7 1348.8h0M278.84 1354.25h0M278.98 1355.03h0M279.12 1344.29h0M279.26 1347.82h0M279.4 1347.21h0M279.54 1355.58h0M279.68 1359.25h0M279.81 1359.65h0M279.95 1358.33h0M280.09 1351.63h0M280.23 1359.39h0M280.37 1360.01h0M280.51 1362.66h0M280.65 1353.87h0M280.79 1350.06h0M280.93 1356.18h0M281.07 1356.01h0M281.21 1348.42h0M281.35 1354.34h0M281.49 1353.76h0M281.63 1362.28h0M281.77 1355.64h0M281.91 1353.47h0M282.05 1362.1h0M282.19 1361.14h0M282.33 1365.79h0M282.46 1365.94h0M282.6 1363.29h0M282.74 1358.92h0M282.88 1361.68h0M283.02 1356.36h0M283.16 1356.7h0M283.3 1359.46h0M283.44 1359.67h0M283.58 1362.48h0M283.72 1366.89h0M283.86 1356.26h0M284 1357.81h0M284.14 1368.5h0M284.28 1366.74h0M284.42 1356.97h0M284.56 1360.63h0M284.7 1365.02h0M284.84 1365.32h0M284.98 1361.32h0M285.11 1368.65h0M285.25 1368.56h0M285.39 1365.29h0M285.53 1368.16h0M285.67 1367.64h0M285.81 1372.57h0M285.95 1365.94h0M286.09 1362.47h0M286.23 1364.77h0M286.37 1369.75h0M286.51 1371.62h0M286.65 1373.1h0M286.79 1374.55h0M286.93 1365.64h0M287.07 1366.36h0M287.21 1372.93h0M287.35 1375.08h0M287.49 1363.16h0M287.63 1372.51h0M287.76 1378.59h0M287.9 1363.69h0M288.04 1373.1h0M288.18 1368.77h0M288.32 1376.46h0M288.46 1365.74h0M288.6 1369.62h0M288.74 1372.98h0M288.88 1366.39h0M289.02 1374.49h0M289.16 1377.58h0M289.3 1372.67h0M289.44 1381.45h0M289.58 1374.61h0M289.72 1375.05h0M289.86 1369.02h0M290 1369.13h0M290.14 1367.72h0M290.28 1370.81h0M290.41 1373.71h0M290.55 1368.92h0M290.69 1373.78h0M290.83 1379.86h0M290.97 1374.02h0M291.11 1372.57h0M291.25 1366.55h0M291.39 1384.77h0M291.53 1381.18h0M291.67 1384.33h0M291.81 1383h0M291.95 1375.88h0M292.09 1372.08h0M292.23 1379.05h0M292.37 1374.81h0M292.51 1386.72h0M292.65 1375.33h0M292.79 1386.96h0M292.93 1383.81h0M293.06 1371.13h0M293.2 1386.79h0M293.34 1377.62h0M293.48 1383.89h0M293.62 1373.01h0M293.76 1375.52h0M293.9 1380.89h0M294.04 1380.09h0M294.18 1376.2h0M294.32 1383.47h0M294.46 1386.38h0M294.6 1375.56h0M294.74 1386.54h0M294.88 1377.28h0M295.02 1383.9h0M295.16 1387.44h0M295.3 1386.18h0M295.44 1386.15h0M295.58 1378.02h0M295.71 1379.97h0M295.85 1382.67h0M295.99 1389.6h0M296.13 1390.63h0M296.27 1380.86h0M296.41 1376.73h0M296.55 1373.48h0M296.69 1389.49h0M296.83 1368.07h0M296.97 1394.74h0M297.11 1393.94h0M297.25 1387.26h0M297.39 1375.53h0M297.53 1376.66h0M297.67 1374.89h0M297.81 1390.33h0M297.95 1389.2h0M298.09 1376.44h0M298.23 1392.37h0M298.36 1381.86h0M298.5 1393.54h0M298.64 1377.95h0M298.78 1388.51h0M298.92 1377.2h0M299.06 1383.96h0M299.2 1386.21h0M299.34 1393.09h0M299.48 1377.64h0M299.62 1395.85h0M299.76 1387.84h0M299.9 1392.66h0M300.04 1387.81h0M300.18 1387.01h0M300.32 1388.79h0M300.46 1386.16h0M300.6 1387.21h0M300.74 1385.22h0M300.88 1385.71h0M301.01 1382.87h0M301.15 1378.77h0M301.29 1392.53h0M301.43 1385.9h0M301.57 1398.01h0M301.71 1381.84h0M301.85 1392.2h0M301.99 1386.05h0M302.13 1380.93h0M302.27 1384.03h0M302.41 1391.13h0M302.55 1386.25h0M302.69 1381.33h0M302.83 1395.95h0M302.97 1397.8h0M303.11 1390.05h0M303.25 1381.98h0M303.39 1396.45h0M303.53 1387.69h0M303.66 1395.69h0M303.8 1380.38h0M303.94 1394.53h0M304.08 1403.91h0M304.22 1392.94h0M304.36 1386.82h0M304.5 1393.35h0M304.64 1397.34h0M304.78 1389.14h0M304.92 1394.01h0M305.06 1385.02h0M305.2 1393.47h0M305.34 1403.3h0M305.48 1402.44h0M305.62 1402.07h0M305.76 1382.58h0M305.9 1404.9h0M306.04 1394.72h0M306.18 1394.9h0M306.31 1404.81h0M306.45 1390.86h0M306.59 1392.45h0M306.73 1400.82h0M306.87 1396.74h0M307.01 1402.83h0M307.15 1387.67h0M307.29 1394.42h0M307.43 1394.23h0M307.57 1403.14h0M307.71 1384.71h0M307.85 1389.02h0M307.99 1390.98h0M308.13 1392.99h0M308.27 1402.78h0M308.41 1391.84h0M308.55 1385.93h0M308.69 1404.42h0M308.83 1382.96h0M308.96 1389.88h0M309.1 1396.15h0M309.24 1395.2h0M309.38 1390.35h0M309.52 1396.44h0M309.66 1398.27h0M309.8 1392.24h0M309.94 1398.89h0M310.08 1387.98h0M310.22 1393.26h0M310.36 1404.01h0M310.5 1390.17h0M310.64 1402.49h0M310.78 1387.16h0M310.92 1397.89h0M311.06 1388.96h0M311.2 1396.14h0M311.34 1389.63h0M311.48 1393.04h0M311.61 1399.19h0M311.75 1399.82h0M311.89 1395.38h0M312.03 1398.74h0M312.17 1388.48h0M312.31 1400.87h0M312.45 1403.09h0M312.59 1397.05h0M312.73 1395.35h0M312.87 1402.39h0M313.01 1400.04h0M313.15 1396.41h0M313.29 1394.83h0M313.43 1391.37h0M313.57 1392.35h0M313.71 1397.51h0M313.85 1393.08h0M313.99 1396.47h0M314.13 1396.31h0M314.26 1397.12h0M314.4 1397.09h0M314.54 1392.25h0M314.68 1398.04h0M314.82 1398.18h0M314.96 1402.66h0M315.1 1394.03h0M315.24 1399.48h0M315.38 1402.69h0M315.52 1400.43h0M315.66 1397.5h0M315.8 1391.56h0M315.94 1404.46h0M316.08 1399.4h0M316.22 1395.83h0M316.36 1400.66h0M316.5 1393.01h0M316.64 1403.76h0M316.78 1397.39h0M316.92 1407.29h0M317.05 1393.24h0M317.19 1404.64h0M317.33 1402.66h0M317.47 1399.5h0M317.61 1405.69h0M317.75 1395.7h0M317.89 1393.2h0M318.03 1393.26h0M318.17 1398.7h0M318.31 1401.17h0M318.45 1403.73h0M318.59 1407.08h0M318.73 1402.42h0M318.87 1402.58h0M319.01 1401.06h0M319.15 1401.8h0M319.29 1401.2h0M319.43 1398.34h0M319.57 1403.45h0M319.7 1400.89h0M319.84 1395.35h0M319.98 1400.67h0M320.12 1397.14h0M320.26 1398.18h0M320.4 1395.74h0M320.54 1398.41h0M320.68 1401.94h0M320.82 1404.23h0M320.96 1397.03h0M321.1 1394.73h0M321.24 1407.73h0M321.38 1409.88h0M321.52 1398.36h0M321.66 1393.82h0M321.8 1393.37h0M321.94 1401.64h0M322.08 1405.7h0M322.22 1408.13h0M322.35 1402.01h0M322.49 1401.08h0M322.63 1402.98h0M322.77 1388.5h0M322.91 1401.12h0M323.05 1391.76h0M323.19 1405.9h0M323.33 1401.86h0M323.47 1410.95h0M323.61 1403.36h0M323.75 1389.83h0M323.89 1409.19h0M324.03 1411.03h0M324.17 1411.2h0M324.31 1405.92h0M324.45 1404.2h0M324.59 1400.69h0M324.73 1406.06h0M324.87 1395.73h0M325 1411.3h0M325.14 1397.7h0M325.28 1402.54h0M325.42 1408.05h0M325.56 1396.3h0M325.7 1399.94h0M325.84 1394.87h0M325.98 1400.94h0M326.12 1395.95h0M326.26 1395.96h0M326.4 1402.61h0M326.54 1408.69h0M326.68 1408.3h0M326.82 1405.32h0M326.96 1394.1h0M327.1 1411.29h0M327.24 1404.19h0M327.38 1395.77h0M327.52 1412.56h0M327.65 1396.2h0M327.79 1404.72h0M327.93 1411.19h0M328.07 1406.75h0M328.21 1405.39h0M328.35 1399.13h0M328.49 1399.15h0M328.63 1395.84h0M328.77 1391.28h0M328.91 1403.05h0M329.05 1395.05h0M329.19 1406.94h0M329.33 1398.56h0M329.47 1408.04h0M329.61 1405.17h0M329.75 1399.78h0M329.89 1403.58h0M330.03 1402.33h0M330.17 1404.13h0M330.3 1404.63h0M330.44 1394.73h0M330.58 1409.07h0M330.72 1395.38h0M330.86 1413.93h0M331 1411.84h0M331.14 1395.97h0M331.28 1404.17h0M331.42 1401.25h0M331.56 1399.68h0M331.7 1396.76h0M331.84 1412.04h0M331.98 1397.95h0M332.12 1408.91h0M332.26 1404.88h0M332.4 1412.1h0M332.54 1397.04h0M332.68 1402.02h0M332.82 1402.9h0M332.95 1412.13h0M333.09 1411.27h0M333.23 1408.79h0M333.37 1411.51h0M333.51 1401.96h0M333.65 1397.42h0M333.79 1401.53h0M333.93 1403.94h0M334.07 1400.41h0M334.21 1400.55h0M334.35 1414.48h0M334.49 1395.18h0M334.63 1415.86h0M334.77 1403.83h0M334.91 1399.75h0M335.05 1405.4h0M335.19 1413.91h0M335.33 1393.06h0M335.47 1408.88h0M335.6 1388.89h0M335.74 1398.89h0M335.88 1400.95h0M336.02 1403.99h0M336.16 1413.54h0M336.3 1404.39h0M336.44 1405.19h0M336.58 1401.74h0M336.72 1417.22h0M336.86 1416.12h0M337 1413.05h0M337.14 1411.78h0M337.28 1415.64h0M337.42 1397.79h0M337.56 1392.12h0M337.7 1415.15h0M337.84 1409.14h0M337.98 1408.8h0M338.12 1399.68h0M338.25 1397.86h0M338.39 1391.92h0M338.53 1397.29h0M338.67 1403.88h0M338.81 1413.94h0M338.95 1419.58h0M339.09 1390.08h0M339.23 1419.98h0M339.37 1396.42h0M339.51 1402.37h0M339.65 1402.91h0M339.79 1399.05h0M339.93 1421.73h0M340.07 1409.15h0M340.21 1410.01h0M340.35 1387.01h0M340.49 1415.05h0M340.63 1396.72h0M340.77 1403.21h0M340.9 1388.87h0M341.04 1395.54h0M341.18 1399.2h0M341.32 1402.02h0M341.46 1392.48h0M341.6 1415.03h0M341.74 1392.78h0M341.88 1393.1h0M342.02 1410.35h0M342.16 1396.36h0M342.3 1391.42h0M342.44 1401.1h0M342.58 1402.45h0M342.72 1400.13h0M342.86 1410.97h0M343 1392.9h0M343.14 1404.34h0M343.28 1399h0M343.42 1406.88h0M343.55 1410.59h0M343.69 1414.56h0M343.83 1407.82h0M343.97 1398.62h0M344.11 1405.93h0M344.25 1416.62h0M344.39 1406.65h0M344.53 1416.02h0M344.67 1414.06h0M344.81 1398.83h0M344.95 1411.89h0M345.09 1406.11h0M345.23 1408.88h0M345.37 1414.27h0M345.51 1399.98h0M345.65 1400.07h0M345.79 1400.74h0M345.93 1400.48h0M346.07 1401.55h0M346.2 1409.79h0M346.34 1399.16h0M346.48 1402.87h0M346.62 1404.57h0M346.76 1403.09h0M346.9 1397.23h0M347.04 1411.72h0M347.18 1408.63h0M347.32 1412.67h0M347.46 1402.68h0M347.6 1399.97h0M347.74 1400.08h0M347.88 1409.17h0M348.02 1406.14h0M348.16 1409.85h0M348.3 1408.66h0M348.44 1412.17h0M348.58 1411.16h0M348.72 1401.9h0M348.85 1404.55h0M348.99 1403.71h0M349.13 1411.09h0M349.27 1400.43h0M349.41 1406.02h0M349.55 1406.76h0M349.69 1404.67h0M349.83 1405.63h0M349.97 1404.99h0M350.11 1412.86h0M350.25 1407.18h0M350.39 1406.46h0M350.53 1413.86h0M350.67 1407.36h0M350.81 1410.76h0M350.95 1402.48h0M351.09 1404h0M351.23 1404.15h0M351.37 1403.76h0M351.5 1407.52h0M351.64 1412.28h0M351.78 1406.2h0M351.92 1402.11h0M352.06 1405.19h0M352.2 1409.21h0M352.34 1406.92h0M352.48 1404.69h0M352.62 1415.03h0M352.76 1400.78h0M352.9 1407.97h0M353.04 1415.07h0M353.18 1393.87h0M353.32 1402.14h0M353.46 1413.65h0M353.6 1394.59h0M353.74 1411.02h0M353.88 1396.64h0M354.02 1415.46h0M354.15 1394.99h0M354.29 1401.94h0M354.43 1413.1h0M354.57 1407.2h0M354.71 1409.14h0M354.85 1417.25h0M354.99 1405.96h0M355.13 1401.37h0M355.27 1400.31h0M355.41 1405.1h0M355.55 1413.95h0M355.69 1407.12h0M355.83 1421.93h0M355.97 1414.06h0M356.11 1403.64h0M356.25 1401.47h0M356.39 1405.2h0M356.53 1393.2h0M356.67 1393.98h0M356.8 1400.24h0M356.94 1405.21h0M357.08 1412.49h0M357.22 1414.87h0M357.36 1418.03h0M357.5 1403.33h0M357.64 1396.37h0M357.78 1393.57h0M357.92 1398.44h0M358.06 1396.84h0M358.2 1416.3h0M358.34 1398.54h0M358.48 1401.63h0M358.62 1414.3h0M358.76 1414.52h0M358.9 1407.62h0M359.04 1403.5h0M359.18 1416.15h0M359.32 1396.45h0M359.45 1403.38h0M359.59 1406.06h0M359.73 1411.57h0M359.87 1401.61h0M360.01 1414.06h0M360.15 1415.3h0M360.29 1414.42h0M360.43 1404.54h0M360.57 1405.12h0M360.71 1410.25h0M360.85 1403.15h0M360.99 1406.65h0M361.13 1416.99h0M361.27 1405.49h0M361.41 1402.79h0M361.55 1407.37h0M361.69 1401.1h0M361.83 1408.01h0M361.97 1403.49h0M362.1 1413.23h0M362.24 1407.27h0M362.38 1411.06h0M362.52 1398.54h0M362.66 1409.4h0M362.8 1408.44h0M362.94 1403.16h0M363.08 1408.24h0M363.22 1396.28h0M363.36 1399.33h0M363.5 1411.9h0M363.64 1415.67h0M363.78 1414.46h0M363.92 1411.71h0M364.06 1414.68h0M364.2 1396.4h0M364.34 1398.89h0M364.48 1413.07h0M364.62 1411.65h0M364.75 1415.85h0M364.89 1403.99h0M365.03 1401.35h0M365.17 1411.8h0M365.31 1411.31h0M365.45 1404.57h0M365.59 1408.28h0M365.73 1413.2h0M365.87 1405.71h0M366.01 1413.46h0M366.15 1407.44h0M366.29 1405.95h0M366.43 1407.66h0M366.57 1404.5h0M366.71 1408.02h0M366.85 1403.37h0M366.99 1408.67h0M367.13 1411.81h0M367.27 1405.44h0M367.4 1404.24h0M367.54 1412.98h0M367.68 1406.28h0M367.82 1409.67h0M367.96 1413.22h0M368.1 1401.11h0M368.24 1411.74h0M368.38 1393.64h0M368.52 1400.58h0M368.66 1413.24h0M368.8 1413.78h0M368.94 1411.41h0M369.08 1415.18h0M369.22 1412.7h0M369.36 1396.27h0M369.5 1412.47h0M369.64 1420.45h0M369.78 1407.49h0M369.92 1409.43h0M370.06 1403.31h0M370.19 1415.1h0M370.33 1419.75h0M370.47 1397.11h0M370.61 1396.06h0M370.75 1413.29h0M370.89 1404.5h0M371.03 1408.78h0M371.17 1398.54h0M371.31 1405.22h0M371.45 1409.6h0M371.59 1413.62h0M371.73 1401.96h0M371.87 1408.43h0M372.01 1398.78h0M372.15 1414.94h0M372.29 1412.73h0M372.43 1400.95h0M372.57 1410.5h0M372.71 1407.28h0M372.84 1409.84h0M372.98 1411.19h0M373.12 1398.08h0M373.26 1410.08h0M373.4 1398.97h0M373.54 1413.78h0M373.68 1414.01h0M373.82 1400h0M373.96 1413.56h0M374.1 1410.8h0M374.24 1406.96h0M374.38 1418.04h0M374.52 1416.54h0M374.66 1408.95h0M374.8 1406.49h0M374.94 1414.15h0M375.08 1411.69h0M375.22 1403.12h0M375.36 1401.81h0M375.49 1417.08h0M375.63 1405.23h0M375.77 1397.39h0M375.91 1404.08h0M376.05 1401.68h0M376.19 1412.09h0M376.33 1398.14h0M376.47 1410.57h0M376.61 1418.26h0M376.75 1395.38h0M376.89 1399.17h0M377.03 1411.32h0M377.17 1398.03h0M377.31 1414.33h0M377.45 1396.73h0M377.59 1419.01h0M377.73 1418.6h0M377.87 1421.65h0M378.01 1393.44h0M378.14 1406.28h0M378.28 1395.63h0M378.42 1413.22h0M378.56 1415.17h0M378.7 1400.41h0M378.84 1411.54h0M378.98 1412.57h0M379.12 1408.96h0M379.26 1412.71h0M379.4 1402.24h0M379.54 1409.84h0M379.68 1408.17h0M379.82 1407.32h0M379.96 1407.45h0M380.1 1404.41h0M380.24 1411.64h0M380.38 1411.84h0M380.52 1406.25h0M380.66 1404.33h0M380.79 1407.08h0M380.93 1402.09h0M381.07 1409.13h0M381.21 1410.79h0M381.35 1409.79h0M381.49 1404.58h0M381.63 1412.86h0M381.77 1405.47h0M381.91 1408.28h0M382.05 1407.18h0M382.19 1408.72h0M382.33 1408.85h0M382.47 1406.28h0M382.61 1407.51h0M382.75 1406.88h0M382.89 1410.26h0M383.03 1406.58h0M383.17 1410.33h0M383.31 1405.06h0M383.44 1410.32h0M383.58 1407.69h0M383.72 1411.11h0M383.86 1411.84h0M384 1410.26h0M384.14 1409h0M384.28 1408.45h0M384.42 1402.79h0M384.56 1405.59h0M384.7 1405.73h0M384.84 1405.03h0M384.98 1410.3h0M385.12 1408.8h0M385.26 1413.5h0M385.4 1398.96h0M385.54 1400.39h0M385.68 1407.52h0M385.82 1400.99h0M385.96 1415.4h0M386.09 1400.12h0M386.23 1407.48h0M386.37 1417.3h0M386.51 1406.78h0M386.65 1398.01h0M386.79 1399.51h0M386.93 1401.82h0M387.07 1415.92h0M387.21 1408.14h0M387.35 1414.59h0M387.49 1400.74h0M387.63 1399.16h0M387.77 1403h0M387.91 1398.78h0M388.05 1384.17h0M388.19 1371.86h0M388.33 1358.89h0M388.47 1346.81h0M388.61 1337.96h0M388.74 1328.13h0M388.88 1317.98h0M389.02 1305.95h0M389.16 1300.88h0M389.3 1288.99h0M389.44 1279.93h0M389.58 1271.98h0M389.72 1263.62h0M389.86 1255.15h0M390 1246.18h0M390.14 1237.75h0M390.28 1235.65h0M390.42 1229.7h0M390.56 1220.38h0M390.7 1215.46h0M390.84 1203.73h0M390.98 1199.91h0M391.12 1191.17h0M391.26 1187.1h0M391.39 1186.5h0M391.53 1177.83h0M391.67 1173.52h0M391.81 1164.08h0M391.95 1163.47h0M392.09 1159.73h0M392.23 1153.53h0M392.37 1151.07h0M392.51 1147.87h0M392.65 1144.52h0M392.79 1139.91h0M392.93 1139.85h0M393.07 1131.68h0M393.21 1132.36h0M393.35 1123.09h0M393.49 1123.3h0M393.63 1122.16h0M393.77 1116.81h0M393.91 1115.35h0M394.04 1107.92h0M394.18 1107.77h0M394.32 1105.4h0M394.46 1099.4h0M394.6 1103.54h0M394.74 1096.57h0M394.88 1092.51h0M395.02 1090.49h0M395.16 1090.56h0M395.3 1089.32h0M395.44 1085.59h0M395.58 1089.77h0M395.72 1082.77h0M395.86 1084.19h0M396 1080.26h0M396.14 1080.45h0M396.28 1078.06h0M396.42 1075.87h0M396.56 1076.35h0M396.69 1074.81h0M396.83 1074.47h0M396.97 1073.21h0M397.11 1073.67h0M397.25 1066h0M397.39 1070.22h0M397.53 1062.64h0M397.67 1060.11h0M397.81 1059.5h0M397.95 1060.37h0M398.09 1065.3h0M398.23 1059.5h0M398.37 1059.08h0M398.51 1060.05h0M398.65 1059.32h0M398.79 1055.8h0M398.93 1058.93h0M399.07 1053.88h0M399.21 1056.62h0M399.34 1052.25h0M399.48 1048.57h0M399.62 1047.75h0M399.76 1050.98h0M399.9 1053.64h0M400.04 1051.89h0M400.18 1044.26h0M400.32 1049.72h0M400.46 1047.64h0M400.6 1043.32h0M400.74 1044.69h0M400.88 1048.86h0M401.02 1040.49h0M401.16 1042.94h0M401.3 1048.07h0M401.44 1043.75h0M401.58 1042.33h0M401.72 1041.65h0M401.86 1044.66h0M401.99 1038.4h0M402.13 1041.43h0M402.27 1043.09h0M402.41 1041.13h0M402.55 1041.48h0M402.69 1041.84h0M402.83 1037.9h0M402.97 1035.61h0M403.11 1035.6h0M403.25 1033.1h0M403.39 1037.95h0M403.53 1037.61h0M403.67 1031.96h0M403.81 1037.28h0M403.95 1038.87h0M404.09 1035.13h0M404.23 1036.44h0M404.37 1034.3h0M404.51 1030.3h0M404.64 1036.32h0M404.78 1032.41h0M404.92 1029.76h0M405.06 1031.39h0M405.2 1031.64h0M405.34 1030.33h0M405.48 1032.43h0M405.62 1028.84h0M405.76 1031.85h0M405.9 1029.08h0M406.04 1031.81h0M406.18 1030.38h0M406.32 1030.29h0M406.46 1030.01h0M406.6 1027.78h0M406.74 1032.21h0M406.88 1026.95h0M407.02 1025.77h0M407.16 1031.08h0M407.29 1030.79h0M407.43 1033.16h0M407.57 1029.71h0M407.71 1033.77h0M407.85 1049.91h0M407.99 1038.57h0M408.13 1048.58h0M408.27 1057.13h0M408.41 1062.76h0M408.55 1053.29h0M408.69 1060.12h0M408.83 1069.77h0M408.97 1064.69h0M409.11 1075.54h0M409.25 1076.83h0M409.39 1080.86h0M409.53 1079.27h0M409.67 1082.76h0M409.81 1092.17h0M409.94 1090.28h0M410.08 1091.36h0M410.22 1090.79h0M410.36 1099.72h0M410.5 1098.57h0M410.64 1103.02h0M410.78 1096.86h0M410.92 1105.65h0M411.06 1109.5h0M411.2 1119.92h0M411.34 1109.83h0M411.48 1117.04h0M411.62 1127.59h0M411.76 1123.71h0M411.9 1126.93h0M412.04 1120.86h0M412.18 1138.73h0M412.32 1141.11h0M412.46 1131.78h0M412.59 1138h0M412.73 1143.34h0M412.87 1141.75h0M413.01 1149.45h0M413.15 1145.99h0M413.29 1140.24h0M413.43 1147.42h0M413.57 1145.61h0M413.71 1152.99h0M413.85 1164.52h0M413.99 1159.89h0M414.13 1151.53h0M414.27 1168.17h0M414.41 1157.39h0M414.55 1159.07h0M414.69 1169.21h0M414.83 1168.27h0M414.97 1170.32h0M415.11 1169.33h0M415.24 1172.54h0M415.38 1170.37h0M415.52 1170h0M415.66 1178.46h0M415.8 1173.64h0M415.94 1180.92h0M416.08 1188.73h0M416.22 1195.26h0M416.36 1193.78h0M416.5 1195.85h0M416.64 1206.57h0M416.78 1191.66h0M416.92 1188.41h0M417.06 1207.98h0M417.2 1193.02h0M417.34 1213.04h0M417.48 1203.37h0M417.62 1212.18h0M417.76 1205.19h0M417.89 1216.38h0M418.03 1216.77h0M418.17 1212.75h0M418.31 1219.37h0M418.45 1216.52h0M418.59 1212.89h0M418.73 1216.69h0M418.87 1213.46h0M419.01 1225.32h0M419.15 1225.53h0M419.29 1225.71h0M419.43 1225.19h0M419.57 1234h0M419.71 1222.7h0M419.85 1229.6h0M419.99 1227.14h0M420.13 1239.12h0M420.27 1233.49h0M420.41 1233.53h0M420.54 1232.04h0M420.68 1225.66h0M420.82 1234.51h0M420.96 1236.53h0M421.1 1246.41h0M421.24 1252.15h0M421.38 1257.84h0M421.52 1237.01h0M421.66 1235.89h0M421.8 1238.32h0M421.94 1243.95h0M422.08 1241.6h0M422.22 1257.4h0M422.36 1243.39h0M422.5 1264.88h0M422.64 1252.4h0M422.78 1251.75h0M422.92 1268.27h0M423.06 1263.64h0M423.19 1257.85h0M423.33 1253.89h0M423.47 1254.69h0M423.61 1274.87h0M423.75 1277.69h0M423.89 1256.52h0M424.03 1256.89h0M424.17 1273.66h0M424.31 1279.05h0M424.45 1283.54h0M424.59 1279.92h0M424.73 1284.21h0M424.87 1279.91h0M425.01 1284.69h0M425.15 1280.26h0M425.29 1276.68h0M425.43 1279.02h0M425.57 1279.44h0M425.71 1289.7h0M425.85 1282.06h0M425.98 1272.02h0M426.12 1292.22h0M426.26 1273.59h0M426.4 1283.41h0M426.54 1292.03h0M426.68 1278.05h0M426.82 1292.91h0M426.96 1291.99h0M427.1 1283.46h0M427.24 1291.77h0M427.38 1290.09h0M427.52 1302.67h0M427.66 1284.87h0M427.8 1303.16h0M427.94 1290.38h0M428.08 1297.24h0M428.22 1294.73h0M428.36 1293.86h0M428.5 1301.61h0M428.63 1299.33h0M428.77 1291.36h0M428.91 1287.12h0M429.05 1310.53h0M429.19 1307.6h0M429.33 1301.28h0M429.47 1305.04h0M429.61 1301.5h0M429.75 1313.43h0M429.89 1307.6h0M430.03 1308.31h0M430.17 1315.82h0M430.31 1312.57h0M430.45 1311.22h0M430.59 1314.24h0M430.73 1311.63h0M430.87 1316.95h0M431.01 1317.76h0M431.15 1317.26h0M431.28 1312.57h0M431.42 1309.88h0M431.56 1311.8h0M431.7 1308.04h0M431.84 1315.08h0M431.98 1311.09h0M432.12 1317.21h0M432.26 1318.01h0M432.4 1314.09h0M432.54 1327.18h0M432.68 1317.57h0M432.82 1329.08h0M432.96 1314.25h0M433.1 1322.46h0M433.24 1326.32h0M433.38 1328.81h0M433.52 1327.5h0M433.66 1324.29h0M433.8 1319.6h0M433.93 1329.09h0M434.07 1328.53h0M434.21 1331.99h0M434.35 1335.41h0M434.49 1318.9h0M434.63 1332.33h0M434.77 1328.61h0M434.91 1326.21h0M435.05 1333.41h0M435.19 1329.87h0M435.33 1327.14h0M435.47 1332.11h0M435.61 1326.15h0M435.75 1325.05h0M435.89 1334.39h0M436.03 1335.07h0M436.17 1325.67h0M436.31 1342.52h0M436.45 1338.63h0M436.58 1323.58h0M436.72 1341.66h0M436.86 1337.03h0M437 1333.08h0M437.14 1333.41h0M437.28 1337.75h0M437.42 1341.52h0M437.56 1338.02h0M437.7 1338.49h0M437.84 1330.5h0M437.98 1341.92h0M438.12 1333.31h0M438.26 1336.94h0M438.4 1339.07h0M438.54 1345.69h0M438.68 1332.51h0M438.82 1344.82h0M438.96 1347.37h0M439.1 1340.95h0M439.23 1349.16h0M439.37 1355.84h0M439.51 1343.19h0M439.65 1355.56h0M439.79 1344.64h0M439.93 1345.67h0M440.07 1349.4h0M440.21 1349.2h0M440.35 1337.16h0M440.49 1350.05h0M440.63 1347.92h0M440.77 1345.81h0M440.91 1358.52h0M441.05 1349.65h0M441.19 1354.12h0M441.33 1355.3h0M441.47 1351.52h0M441.61 1347.29h0M441.75 1358.52h0M441.88 1354.27h0M442.02 1349.43h0M442.16 1344.07h0M442.3 1347.48h0M442.44 1364.71h0M442.58 1344.72h0M442.72 1357.01h0M442.86 1342.08h0M443 1353.19h0M443.14 1369.18h0M443.28 1357.45h0M443.42 1360.26h0M443.56 1364.86h0M443.7 1357.84h0M443.84 1365.74h0M443.98 1356.84h0M444.12 1351.44h0M444.26 1349.11h0M444.4 1345.78h0M444.53 1359.57h0M444.67 1364.57h0M444.81 1356.77h0M444.95 1372.64h0M445.09 1350.46h0M445.23 1359.58h0M445.37 1350.27h0M445.51 1373h0M445.65 1372.29h0M445.79 1369.31h0M445.93 1370.35h0M446.07 1357.51h0M446.21 1356h0M446.35 1369.97h0M446.49 1356.06h0M446.63 1360.32h0M446.77 1361.66h0M446.91 1359.21h0M447.05 1362.73h0M447.18 1368.73h0M447.32 1354.1h0M447.46 1353.97h0M447.6 1362.15h0M447.74 1358.2h0M447.88 1355.72h0M448.02 1364.01h0M448.16 1358.78h0M448.3 1367.77h0M448.44 1361.41h0M448.58 1373.84h0M448.72 1371.1h0M448.86 1362.93h0M449 1375.55h0M449.14 1377.43h0M449.28 1376.66h0M449.42 1375.47h0M449.56 1376.57h0M449.7 1374.17h0M449.83 1373.96h0M449.97 1380.71h0M450.11 1376.4h0M450.25 1374.24h0M450.39 1366.26h0M450.53 1369.89h0M450.67 1365.03h0M450.81 1373.29h0M450.95 1371.52h0M451.09 1362.28h0M451.23 1375.09h0M451.37 1370.44h0M451.51 1379.03h0M451.65 1373.42h0M451.79 1367.48h0M451.93 1371.27h0M452.07 1379.33h0M452.21 1381.23h0M452.35 1383.17h0M452.48 1366.11h0M452.62 1374.96h0M452.76 1379.85h0M452.9 1370.51h0M453.04 1381.56h0M453.18 1380.27h0M453.32 1377.81h0M453.46 1385.71h0M453.6 1371.96h0M453.74 1377.38h0M453.88 1370.01h0M454.02 1379.61h0M454.16 1380.8h0M454.3 1370.9h0M454.44 1384.11h0M454.58 1378.65h0M454.72 1379.87h0M454.86 1377.04h0M455 1373.38h0M455.13 1382.03h0M455.27 1380.52h0M455.41 1379.05h0M455.55 1377.75h0M455.69 1369.53h0M455.83 1387.24h0M455.97 1384.66h0M456.11 1376.98h0M456.25 1387.43h0M456.39 1368.88h0M456.53 1390.73h0M456.67 1377.33h0M456.81 1383.69h0M456.95 1390.33h0M457.09 1381.53h0M457.23 1372.55h0M457.37 1388.62h0M457.51 1374.6h0M457.65 1388.62h0M457.78 1384.56h0M457.92 1373.1h0M458.06 1389.88h0M458.2 1382.24h0M458.34 1386.43h0M458.48 1384.36h0M458.62 1386.22h0M458.76 1386.98h0M458.9 1391.32h0M459.04 1384.95h0M459.18 1380.37h0M459.32 1388.46h0M459.46 1378.3h0M459.6 1389.07h0M459.74 1387.76h0M459.88 1383.66h0M460.02 1385.02h0M460.16 1378.77h0M460.3 1391.14h0M460.43 1385.7h0M460.57 1388.5h0M460.71 1377.45h0M460.85 1379.36h0M460.99 1384.54h0M461.13 1379.85h0M461.27 1388.05h0M461.41 1393.41h0M461.55 1384.24h0M461.69 1384.59h0M461.83 1391.89h0M461.97 1379.84h0M462.11 1382.45h0M462.25 1394.29h0M462.39 1395.29h0M462.53 1391.68h0M462.67 1387.87h0M462.81 1386.43h0M462.95 1377.7h0M463.08 1390.82h0M463.22 1387.05h0M463.36 1397.01h0M463.5 1391.93h0M463.64 1386.27h0M463.78 1386.96h0M463.92 1390.24h0M464.06 1400.05h0M464.2 1396.87h0M464.34 1381.14h0M464.48 1389.92h0M464.62 1380.89h0M464.76 1394.37h0M464.9 1396.64h0M465.04 1380.62h0M465.18 1391.91h0M465.32 1395.95h0M465.46 1395.84h0M465.6 1387.6h0M465.73 1387.59h0M465.87 1399.13h0M466.01 1380.82h0M466.15 1391.62h0M466.29 1379.29h0M466.43 1395.81h0M466.57 1398.03h0M466.71 1383.39h0M466.85 1381.42h0M466.99 1398.35h0M467.13 1391.09h0M467.27 1379.53h0M467.41 1390.48h0M467.55 1402.41h0M467.69 1397.77h0M467.83 1397.38h0M467.97 1397.21h0M468.11 1391.87h0M468.25 1401.44h0M468.38 1391.35h0M468.52 1393.16h0M468.66 1387.78h0M468.8 1390.01h0M468.94 1397.7h0M469.08 1393.66h0M469.22 1394.57h0M469.36 1397.24h0M469.5 1401.49h0M469.64 1395.48h0M469.78 1395.96h0M469.92 1386.25h0M470.06 1399.58h0M470.2 1397.1h0M470.34 1393.94h0M470.48 1395.12h0M470.62 1392.5h0M470.76 1397.25h0M470.9 1391.62h0M471.03 1395.98h0M471.17 1396.04h0M471.31 1386.96h0M471.45 1397.26h0M471.59 1388.25h0M471.73 1389.38h0M471.87 1393.65h0M472.01 1395.18h0M472.15 1386.28h0M472.29 1404.12h0M472.43 1391.83h0M472.57 1395.32h0M472.71 1392.72h0M472.85 1403.44h0M472.99 1402.72h0M473.13 1387.64h0M473.27 1388.03h0M473.41 1399.38h0M473.55 1400.45h0M473.68 1389.9h0M473.82 1399.64h0M473.96 1399.16h0M474.1 1397.57h0M474.24 1393.63h0M474.38 1397.13h0M474.52 1386.88h0M474.66 1389.78h0M474.8 1389.56h0M474.94 1392.82h0M475.08 1385.79h0M475.22 1397.48h0M475.36 1403.26h0M475.5 1398.52h0M475.64 1406.21h0M475.78 1387.99h0M475.92 1392.37h0M476.06 1403.48h0M476.2 1401.11h0M476.33 1403.5h0M476.47 1406.58h0M476.61 1401.58h0M476.75 1395.75h0M476.89 1395.55h0M477.03 1400.2h0M477.17 1390.36h0M477.31 1407.49h0M477.45 1409.86h0M477.59 1389.33h0M477.73 1392.87h0M477.87 1389.73h0M478.01 1402.15h0M478.15 1390.51h0M478.29 1405.76h0M478.43 1389.24h0M478.57 1400.37h0M478.71 1404.11h0M478.85 1401.35h0M478.98 1399.01h0M479.12 1394.3h0M479.26 1392.95h0M479.4 1400.61h0M479.54 1392.61h0M479.68 1397.55h0M479.82 1403.69h0M479.96 1398.82h0M480.1 1401.69h0M480.24 1391.48h0M480.38 1405.84h0M480.52 1403.67h0M480.66 1395.55h0M480.8 1404h0M480.94 1398.26h0M481.08 1392.98h0M481.22 1408.65h0M481.36 1396.47h0M481.5 1399.5h0M481.64 1408.77h0M481.77 1403.71h0M481.91 1402.24h0M482.05 1401.26h0M482.19 1395.58h0M482.33 1401.83h0M482.47 1407.19h0M482.61 1408.87h0M482.75 1401.74h0M482.89 1404.42h0M483.03 1403.28h0M483.17 1388.39h0M483.31 1400.22h0M483.45 1405.6h0M483.59 1406.01h0M483.73 1405.56h0M483.87 1403.12h0M484.01 1404.48h0M484.15 1398.24h0M484.29 1405.03h0M484.42 1404.57h0M484.56 1408.24h0M484.7 1393.2h0M484.84 1390.57h0M484.98 1402.5h0M485.12 1393.45h0M485.26 1390.5h0M485.4 1392.45h0M485.54 1401.57h0M485.68 1411.45h0M485.82 1407.82h0M485.96 1391.77h0M486.1 1408.45h0M486.24 1394.41h0M486.38 1405.57h0M486.52 1390.9h0M486.66 1406.17h0M486.8 1405.14h0M486.94 1411.83h0M487.07 1410.95h0M487.21 1408.65h0M487.35 1403.93h0M487.49 1402.69h0M487.63 1392.21h0M487.77 1392.53h0M487.91 1409.83h0M488.05 1399.16h0M488.19 1393.39h0M488.33 1391.16h0M488.47 1402.63h0M488.61 1389.57h0M488.75 1403.11h0M488.89 1397.43h0M489.03 1413.98h0M489.17 1411.14h0M489.31 1388.69h0M489.45 1390.26h0M489.59 1417.63h0M489.72 1403.68h0M489.86 1397.72h0M490 1408.58h0M490.14 1408.95h0M490.28 1393.29h0M490.42 1400.83h0M490.56 1400.11h0M490.7 1404.25h0M490.84 1410.44h0M490.98 1413.36h0M491.12 1409.76h0M491.26 1386.23h0M491.4 1404.12h0M491.54 1399.56h0M491.68 1411.23h0M491.82 1404.12h0M491.96 1406.09h0M492.1 1404.64h0M492.24 1406.11h0M492.37 1410.46h0M492.51 1406.24h0M492.65 1398.9h0M492.79 1411.19h0M492.93 1409.5h0M493.07 1394.54h0M493.21 1417.69h0M493.35 1397.88h0M493.49 1392.6h0M493.63 1394.05h0M493.77 1419.1h0M493.91 1412.31h0M494.05 1401.48h0M494.19 1417.33h0M494.33 1403.85h0M494.47 1400.94h0M494.61 1402.52h0M494.75 1399.43h0M494.89 1413.58h0M495.02 1397.62h0M495.16 1409.47h0M495.3 1412.51h0M495.44 1399.28h0M495.58 1398.51h0M495.72 1406.74h0M495.86 1396.16h0M496 1407.6h0M496.14 1398.54h0M496.28 1399.62h0M496.42 1405.67h0M496.56 1401.67h0M496.7 1391.38h0M496.84 1402.05h0M496.98 1409.24h0M497.12 1395.4h0M497.26 1413.15h0M497.4 1401.71h0M497.54 1412.36h0M497.67 1398.82h0M497.81 1402.2h0M497.95 1413.77h0M498.09 1405.1h0M498.23 1390.83h0M498.37 1402.03h0M498.51 1395.88h0M498.65 1395.62h0M498.79 1388.11h0M498.93 1406.51h0M499.07 1397.16h0M499.21 1409.97h0M499.35 1391.62h0M499.49 1407.85h0M499.63 1398.92h0M499.77 1412.29h0M499.91 1409.28h0M500.05 1397.25h0M500.19 1398.26h0M500.32 1396.11h0M500.46 1399.66h0M500.6 1403.49h0M500.74 1408.37h0M500.88 1396.1h0M501.02 1396.13h0M501.16 1406.61h0M501.3 1397.94h0M501.44 1402.5h0M501.58 1399.18h0M501.72 1388.99h0M501.86 1390.11h0M502 1401.15h0M502.14 1391.47h0M502.28 1395.17h0M502.42 1392.26h0M502.56 1407.23h0M502.7 1408.74h0M502.84 1401.6h0M502.97 1403.66h0M503.11 1403.47h0M503.25 1392.24h0M503.39 1395.47h0M503.53 1399.39h0M503.67 1411.92h0M503.81 1409.89h0M503.95 1397.33h0M504.09 1393.29h0M504.23 1402.78h0M504.37 1405.5h0M504.51 1408.06h0M504.65 1415.88h0M504.79 1413.59h0M504.93 1409.32h0M505.07 1398.41h0M505.21 1390.02h0M505.35 1390.99h0M505.49 1402.83h0M505.62 1407.05h0M505.76 1394.01h0M505.9 1393.25h0M506.04 1401.89h0M506.18 1414.38h0M506.32 1409.13h0M506.46 1413.37h0M506.6 1405.89h0M506.74 1399.65h0M506.88 1404.55h0M507.02 1393.27h0M507.16 1407.59h0M507.3 1420.49h0M507.44 1405.89h0M507.58 1386.1h0M507.72 1413.55h0M507.86 1416.94h0M508 1406.43h0M508.14 1383.01h0M508.27 1395.12h0M508.41 1391.61h0M508.55 1416.06h0M508.69 1412.01h0M508.83 1393.57h0M508.97 1398.6h0M509.11 1419.04h0M509.25 1413.66h0M509.39 1395.22h0M509.53 1403.14h0M509.67 1413.06h0M509.81 1407.76h0M509.95 1399.43h0M510.09 1391.86h0M510.23 1392.38h0M510.37 1398h0M510.51 1388.29h0M510.65 1410.94h0M510.79 1417.76h0M510.92 1403.04h0M511.06 1388.01h0M511.2 1422.25h0M511.34 1414.15h0M511.48 1405.66h0M511.62 1417.74h0M511.76 1417.66h0M511.9 1414.5h0M512.04 1415.68h0M512.18 1411.87h0M512.32 1413.9h0M512.46 1393.4h0M512.6 1417.98h0M512.74 1410.67h0M512.88 1397.82h0M513.02 1399.93h0M513.16 1411.52h0M513.3 1412.18h0M513.44 1404.15h0M513.57 1411.99h0M513.71 1390.94h0M513.85 1403.53h0M513.99 1394.22h0M514.13 1399.46h0M514.27 1391.77h0M514.41 1389.28h0M514.55 1391.35h0M514.69 1406.03h0M514.83 1391.93h0M514.97 1416.6h0M515.11 1411.36h0M515.25 1398.9h0M515.39 1394.69h0M515.53 1402.88h0M515.67 1398.36h0M515.81 1399.77h0M515.95 1395.83h0M516.09 1411.28h0M516.22 1409.12h0M516.36 1420.41h0M516.5 1409.22h0M516.64 1389.32h0M516.78 1410.99h0M516.92 1389.85h0M517.06 1402.52h0M517.2 1396.98h0M517.34 1400.04h0M517.48 1399.67h0M517.62 1410.34h0M517.76 1398.92h0M517.9 1398.73h0M518.04 1391.41h0M518.18 1416.21h0M518.32 1397.06h0M518.46 1390.93h0M518.6 1417.73h0M518.74 1413.8h0M518.87 1406.5h0M519.01 1396.75h0M519.15 1394.18h0M519.29 1417.78h0M519.43 1406.78h0M519.57 1395.81h0M519.71 1399.11h0M519.85 1415.75h0M519.99 1400.86h0M520.13 1390.79h0M520.27 1403.45h0M520.41 1414.9h0M520.55 1391.62h0M520.69 1415.16h0M520.83 1414.99h0M520.97 1391.93h0M521.11 1411.92h0M521.25 1417.69h0M521.39 1413.4h0M521.52 1415.1h0M521.66 1411.07h0M521.8 1420.43h0M521.94 1402.21h0M522.08 1393.63h0M522.22 1403.77h0M522.36 1416.08h0M522.5 1407.4h0M522.64 1410.27h0M522.78 1400.31h0M522.92 1398.89h0M523.06 1409.52h0M523.2 1395.47h0M523.34 1409.01h0M523.48 1399.17h0M523.62 1402.04h0M523.76 1408.81h0M523.9 1400.91h0M524.04 1416.17h0M524.17 1412.64h0M524.31 1415.63h0M524.45 1404.6h0M524.59 1410.84h0M524.73 1400.85h0M524.87 1417.22h0M525.01 1397.18h0M525.15 1413.21h0M525.29 1417.11h0M525.43 1397.44h0M525.57 1403.08h0M525.71 1412.83h0M525.85 1405.78h0M525.99 1409.3h0M526.13 1407.37h0M526.27 1410.94h0M526.41 1416.19h0M526.55 1400.24h0M526.69 1407.11h0M526.82 1412.2h0M526.96 1400.91h0M527.1 1408.22h0M527.24 1403.47h0M527.38 1403.29h0M527.52 1410.86h0M527.66 1394.15h0M527.8 1416.02h0M527.94 1415.37h0M528.08 1401.73h0M528.22 1398.39h0M528.36 1417.66h0M528.5 1408.57h0M528.64 1411.02h0M528.78 1417.8h0M528.92 1401.67h0M529.06 1412.39h0M529.2 1421.35h0M529.34 1400.49h0M529.47 1406.71h0M529.61 1410.29h0M529.75 1412.17h0M529.89 1400.97h0M530.03 1405.59h0M530.17 1389.87h0M530.31 1395.23h0M530.45 1391.07h0M530.59 1391.18h0M530.73 1401.12h0M530.87 1390.27h0M531.01 1394.51h0M531.15 1413.12h0M531.29 1396.14h0M531.43 1390.82h0M531.57 1415.97h0M531.71 1411.6h0M531.85 1401.71h0M531.99 1401.49h0M532.12 1406.4h0M532.26 1396.43h0M532.4 1417.2h0M532.54 1396.84h0M532.68 1402.09h0M532.82 1392.88h0M532.96 1399.2h0M533.1 1405.59h0M533.24 1408.27h0M533.38 1415.35h0M533.52 1413.97h0M533.66 1407.17h0M533.8 1406.12h0M533.94 1402.02h0M534.08 1409.74h0M534.22 1394.09h0M534.36 1411.86h0M534.5 1415.78h0M534.64 1402.53h0M534.77 1415.61h0M534.91 1392.72h0M535.05 1396.17h0M535.19 1416.09h0M535.33 1421.3h0M535.47 1415.55h0M535.61 1399.26h0M535.75 1418.55h0M535.89 1422.5h0M536.03 1411.1h0M536.17 1424.62h0M536.31 1409.68h0M536.45 1409.81h0M536.59 1415.09h0M536.73 1400.93h0M536.87 1416.01h0M537.01 1415.89h0M537.15 1411.67h0M537.29 1398.54h0M537.43 1397.72h0M537.56 1392.98h0M537.7 1391.5h0M537.84 1417.47h0M537.98 1391.13h0M538.12 1407.88h0M538.26 1405.25h0M538.4 1417.2h0M538.54 1405.91h0M538.68 1403.12h0M538.82 1402.31h0M538.96 1408.9h0M539.1 1404.8h0M539.24 1403.94h0M539.38 1404.02h0M539.52 1411.81h0M539.66 1397.06h0M539.8 1400.68h0M539.94 1396.35h0M540.08 1398.46h0M540.21 1396.56h0M540.35 1416.41h0M540.49 1413.06h0M540.63 1420.46h0M540.77 1404.17h0M540.91 1390.77h0M541.05 1399.08h0M541.19 1399.42h0M541.33 1417.35h0M541.47 1408.49h0M541.61 1406.69h0M541.75 1411.43h0M541.89 1407.68h0M542.03 1409.79h0M542.17 1418.07h0M542.31 1400.79h0M542.45 1413.4h0M542.59 1396.8h0M542.73 1407.35h0M542.86 1408.92h0M543 1400.25h0M543.14 1409.26h0M543.28 1410.41h0M543.42 1411.81h0M543.56 1402.31h0M543.7 1407.51h0M543.84 1408.59h0M543.98 1401.84h0M544.12 1397.11h0M544.26 1414.79h0M544.4 1403.16h0M544.54 1399.65h0M544.68 1397.68h0M544.82 1415.16h0M544.96 1408.31h0M545.1 1403.55h0M545.24 1404.99h0M545.38 1393.43h0M545.51 1419.85h0M545.65 1414.61h0M545.79 1404.82h0M545.93 1396.28h0M546.07 1412.67h0M546.21 1404.18h0M546.35 1410.22h0M546.49 1399.3h0M546.63 1412.53h0M546.77 1395.32h0M546.91 1416.41h0M547.05 1392.25h0M547.19 1393.42h0M547.33 1413.22h0M547.47 1397.65h0M547.61 1412.11h0M547.75 1394.49h0M547.89 1405.8h0M548.03 1420.44h0M548.16 1416.87h0M548.3 1396.35h0M548.44 1401.48h0M548.58 1402.08h0M548.72 1401.64h0M548.86 1400.11h0M549 1386.56h0M549.14 1396.06h0M549.28 1421.94h0M549.42 1407.75h0M549.56 1410.46h0M549.7 1417.26h0M549.84 1416.24h0M549.98 1396.19h0M550.12 1398.11h0M550.26 1410.52h0M550.4 1401.61h0M550.54 1409.3h0M550.68 1409.28h0M550.81 1394.48h0M550.95 1406.46h0M551.09 1415.19h0M551.23 1409.84h0M551.37 1422.35h0M551.51 1393.35h0M551.65 1404.28h0M551.79 1399.38h0M551.93 1412.83h0M552.07 1418.84h0M552.21 1405.05h0M552.35 1416.22h0M552.49 1400.33h0M552.63 1394.4h0M552.77 1397.87h0M552.91 1416.59h0M553.05 1400.45h0M553.19 1417.16h0M553.33 1398.24h0M553.46 1396.2h0M553.6 1403.82h0M553.74 1417.71h0M553.88 1399.75h0M554.02 1405.5h0M554.16 1410.88h0M554.3 1403.38h0M554.44 1409.18h0M554.58 1406.56h0M554.72 1420.13h0M554.86 1407.06h0M555 1407.74h0M555.14 1412.47h0M555.28 1404.44h0M555.42 1401.05h0M555.56 1401.33h0M555.7 1397.88h0M555.84 1399.04h0M555.98 1393.94h0M556.11 1411.66h0M556.25 1405.56h0M556.39 1412.12h0M556.53 1396.31h0M556.67 1401.12h0M556.81 1412.72h0M556.95 1405.29h0M557.09 1415.44h0M557.23 1400.66h0M557.37 1411.86h0M557.51 1400.6h0M557.65 1405.85h0M557.79 1407.1h0M557.93 1408.14h0M558.07 1409.64h0M558.21 1411.43h0M558.35 1400.39h0M558.49 1408.89h0M558.63 1405.24h0M558.76 1397.39h0M558.9 1403.32h0M559.04 1410.42h0M559.18 1409.03h0M559.32 1414.11h0M559.46 1411.03h0M559.6 1405.66h0M559.74 1409.6h0M559.88 1403.32h0M560.02 1394.76h0M560.16 1413.8h0M560.3 1405.75h0M560.44 1401.59h0M560.58 1416.56h0M560.72 1414.53h0M560.86 1412.53h0M561 1415.05h0M561.14 1399.45h0M561.28 1410.55h0M561.41 1411.05h0M561.55 1414.01h0M561.69 1416.98h0M561.83 1417.42h0M561.97 1416.34h0M562.11 1414.1h0M562.25 1410.83h0M562.39 1394.72h0M562.53 1413.2h0M562.67 1397.82h0M562.81 1409.48h0M562.95 1416.95h0M563.09 1411.4h0M563.23 1403.24h0M563.37 1415.12h0M563.51 1410.8h0M563.65 1410.24h0M563.79 1412.47h0M563.93 1411.55h0M564.06 1403.2h0M564.2 1410.87h0M564.34 1401.54h0M564.48 1414.47h0M564.62 1407.47h0M564.76 1406.09h0M564.9 1414.37h0M565.04 1408.1h0M565.18 1403.61h0M565.32 1406.86h0M565.46 1413.51h0M565.6 1403.42h0M565.74 1403.92h0M565.88 1408.94h0M566.02 1394.83h0M566.16 1416.69h0M566.3 1415.55h0M566.44 1395.41h0M566.58 1397.55h0M566.71 1409.37h0M566.85 1404.43h0M566.99 1401.55h0M567.13 1395.75h0M567.27 1417.29h0M567.41 1414.56h0M567.55 1393.76h0M567.69 1410.23h0M567.83 1396.11h0M567.97 1400.79h0M568.11 1386.98h0M568.25 1415.43h0M568.39 1397.35h0M568.53 1405.47h0M568.67 1396.3h0M568.81 1398.23h0M568.95 1401.28h0M569.09 1398.34h0M569.23 1396.76h0M569.36 1404.66h0M569.5 1405.26h0M569.64 1415.93h0M569.78 1391.56h0M569.92 1406.22h0M570.06 1414.54h0M570.2 1397.33h0M570.34 1394.99h0M570.48 1412.88h0M570.62 1401.22h0M570.76 1395.44h0M570.9 1414.94h0M571.04 1403.87h0M571.18 1397.48h0M571.32 1405.32h0M571.46 1419.03h0M571.6 1411.14h0M571.74 1412.35h0M571.88 1399.18h0M572.01 1401.92h0M572.15 1394.57h0M572.29 1412.8h0M572.43 1404.7h0M572.57 1404.93h0M572.71 1406.81h0M572.85 1409.69h0M572.99 1406.65h0M573.13 1414.54h0M573.27 1407.43h0M573.41 1414.91h0M573.55 1403.51h0M573.69 1404.5h0M573.83 1404.03h0M573.97 1410.62h0M574.11 1410.94h0M574.25 1402.33h0M574.39 1411.8h0M574.53 1410.32h0M574.66 1400.63h0M574.8 1409.59h0M574.94 1408.67h0M575.08 1407.13h0M575.22 1408.9h0M575.36 1399.96h0M575.5 1407.72h0M575.64 1404.79h0M575.78 1400.8h0M575.92 1393.57h0M576.06 1393.79h0M576.2 1388.79h0M576.34 1384.83h0M576.48 1381.15h0M576.62 1374.27h0M576.76 1368.9h0M576.9 1362.88h0M577.04 1356.23h0M577.18 1353.14h0M577.31 1347.14h0M577.45 1337.73h0M577.59 1331.74h0M577.73 1324.59h0M577.87 1319.91h0M578.01 1309.34h0M578.15 1296.61h0M578.29 1290.66h0M578.43 1280.41h0M578.57 1267.81h0M578.71 1257.53h0M578.85 1245.21h0M578.99 1232.64h0M579.13 1217.8h0M579.27 1204.49h0M579.41 1188.42h0M579.55 1172.56h0M579.69 1155.31h0M579.83 1136.87h0M579.96 1120.07h0M580.1 1098.31h0M580.24 1054.64h0M580.38 1006.52h0M580.52 1006.66h0M580.66 954.85h0M580.8 922.22h0M580.94 920.24h0M581.08 889.83h0M581.22 889.73h0M581.36 889.96h0M581.5 894.26h0M581.64 896.42h0M581.78 900.3h0M581.92 902.18h0M582.06 904.3h0M582.2 903.16h0M582.34 904.76h0M582.48 907.62h0M582.61 911.93h0M582.75 912.08h0M582.89 914.91h0M583.03 919.68h0M583.17 915.94h0M583.31 917.05h0M583.45 919.59h0M583.59 920.58h0M583.73 923.22h0M583.87 922.95h0M584.01 924.82h0M584.15 928.42h0M584.29 928.22h0M584.43 930.44h0M584.57 934.96h0M584.71 937.1h0M584.85 936.71h0M584.99 938.51h0M585.13 939.08h0M585.26 938.26h0M585.4 938.38h0M585.54 944.64h0M585.68 941.95h0M585.82 942.06h0M585.96 944.2h0M586.1 945.55h0M586.24 948.42h0M586.38 952.29h0M586.52 949.84h0M586.66 951.22h0M586.8 947.35h0M586.94 956.94h0M587.08 957.7h0M587.22 957.55h0M587.36 956.31h0M587.5 949.99h0M587.64 953.65h0M587.78 954h0M587.91 960.39h0M588.05 958.21h0M588.19 959.53h0M588.33 965.06h0M588.47 962.95h0M588.61 960.47h0M588.75 967.42h0M588.89 963.48h0M589.03 969.88h0M589.17 965.74h0M589.31 964.86h0M589.45 967.35h0M589.59 964.81h0M589.73 966.56h0M589.87 966.53h0M590.01 970.79h0M590.15 972.92h0M590.29 982.71h0M590.43 970.1h0M590.56 979.7h0M590.7 974.45h0M590.84 978.23h0M590.98 962.52h0M591.12 978.95h0M591.26 986.65h0M591.4 965.72h0M591.54 982.98h0M591.68 987.11h0M591.82 972.11h0M591.96 971.91h0M592.1 966.8h0M592.24 974.98h0M592.38 983.22h0M592.52 973.6h0M592.66 993.71h0M592.8 978.11h0M592.94 976.08h0M593.08 974.12h0M593.22 974h0M593.35 987.09h0M593.49 988.61h0M593.63 982.39h0M593.77 984.07h0M593.91 996.56h0M594.05 971.01h0M594.19 984.63h0M594.33 977.92h0M594.47 997.45h0M594.61 992.93h0M594.75 977.69h0M594.89 975.51h0M595.03 978.04h0M595.17 984.98h0M595.31 978.57h0M595.45 978.07h0M595.59 990.98h0M595.73 997.51h0M595.87 998.71h0M596 984.81h0M596.14 998.36h0M596.28 976.15h0M596.42 989.95h0M596.56 994.62h0M596.7 984.71h0M596.84 986.58h0M596.98 977.38h0M597.12 991.5h0M597.26 979.13h0M597.4 982.93h0M597.54 994.42h0M597.68 996.75h0M597.82 986.14h0M597.96 988.24h0M598.1 987.15h0M598.24 998.92h0M598.38 995.71h0M598.52 989.67h0M598.65 997.44h0M598.79 999.18h0M598.93 990.49h0M599.07 993.23h0M599.21 985.19h0M599.35 998.1h0M599.49 993.13h0M599.63 995.99h0M599.77 990.68h0M599.91 985.41h0M600.05 991.18h0M600.19 989.46h0M600.33 981.94h0M600.47 989.43h0M600.61 983.26h0M600.75 996.93h0M600.89 997.89h0M601.03 985.8h0M601.17 992.43h0M601.3 988.79h0M601.44 983.99h0M601.58 996.24h0M601.72 998.19h0M601.86 989.04h0M602 1000.83h0M602.14 998.61h0M602.28 988.69h0M602.42 992.31h0M602.56 998.96h0M602.7 989.15h0M602.84 989.63h0M602.98 997.88h0M603.12 1002.05h0M603.26 997.7h0M603.4 993.29h0M603.54 1001.03h0M603.68 994.78h0M603.82 1001.39h0M603.95 1001.34h0M604.09 990.08h0M604.23 995.66h0M604.37 997.2h0M604.51 992.72h0M604.65 995.15h0M604.79 998.17h0M604.93 996.31h0M605.07 989.63h0M605.21 1004.77h0M605.35 986.33h0M605.49 999.32h0M605.63 990.46h0M605.77 986.14h0M605.91 1006.86h0M606.05 994.44h0M606.19 999.51h0M606.33 1000.32h0M606.47 1003.96h0M606.6 1007.12h0M606.74 1019.68h0M606.88 1011.96h0M607.02 1011.81h0M607.16 1016.45h0M607.3 1022.02h0M607.44 1031.2h0M607.58 1039.61h0M607.72 1044.27h0M607.86 1050.35h0M608 1043.21h0M608.14 1045h0M608.28 1058.56h0M608.42 1058.8h0M608.56 1061.77h0M608.7 1061.3h0M608.84 1075.02h0M608.98 1063.6h0M609.12 1064.35h0M609.25 1080.59h0M609.39 1078.9h0M609.53 1082.59h0M609.67 1075.36h0M609.81 1083.25h0M609.95 1083.34h0M610.09 1084.09h0M610.23 1092.17h0M610.37 1094.91h0M610.51 1095.31h0M610.65 1108.81h0M610.79 1117.05h0M610.93 1106.8h0M611.07 1112.09h0M611.21 1117.18h0M611.35 1114.4h0M611.49 1123.93h0M611.63 1119.15h0M611.77 1127.12h0M611.9 1134.64h0M612.04 1127.94h0M612.18 1130.72h0M612.32 1135.7h0M612.46 1144.48h0M612.6 1131.41h0M612.74 1143.63h0M612.88 1156.71h0M613.02 1138.95h0M613.16 1151.91h0M613.3 1158.97h0M613.44 1150h0M613.58 1158.67h0M613.72 1156.29h0M613.86 1168.5h0M614 1156.16h0M614.14 1162.78h0M614.28 1162.96h0M614.42 1157.64h0M614.55 1170.02h0M614.69 1171.52h0M614.83 1169.21h0M614.97 1170.89h0M615.11 1173.77h0M615.25 1183.38h0M615.39 1175.94h0M615.53 1182.73h0M615.67 1185.62h0M615.81 1201.35h0M615.95 1193.49h0M616.09 1201.39h0M616.23 1185.69h0M616.37 1191.66h0M616.51 1205.06h0M616.65 1193.76h0M616.79 1201.06h0M616.93 1204h0M617.07 1209.87h0M617.2 1195.45h0M617.34 1206.14h0M617.48 1209.47h0M617.62 1214.47h0M617.76 1220.15h0M617.9 1207.23h0M618.04 1223.41h0M618.18 1216.77h0M618.32 1210.64h0M618.46 1228.58h0M618.6 1221.39h0M618.74 1225.07h0M618.88 1231.49h0M619.02 1229.23h0M619.16 1227.99h0M619.3 1229.55h0M619.44 1225.56h0M619.58 1227.26h0M619.72 1225.95h0M619.85 1235.45h0M619.99 1231.83h0M620.13 1236.13h0M620.27 1238.67h0M620.41 1238.01h0M620.55 1247.22h0M620.69 1236.56h0M620.83 1246.16h0M620.97 1248.45h0M621.11 1240.35h0M621.25 1243.86h0M621.39 1243.14h0M621.53 1260.66h0M621.67 1254.59h0M621.81 1256.03h0M621.95 1267.76h0M622.09 1258.76h0M622.23 1246.39h0M622.37 1259.27h0M622.5 1263.75h0M622.64 1260.31h0M622.78 1254.66h0M622.92 1268.99h0M623.06 1257.48h0M623.2 1263.94h0M623.34 1270.77h0M623.48 1271.68h0M623.62 1281.51h0M623.76 1264.82h0M623.9 1281.18h0M624.04 1281.88h0M624.18 1281.81h0M624.32 1272.54h0M624.46 1276.74h0M624.6 1275.94h0M624.74 1289.05h0M624.88 1271.2h0M625.02 1273.31h0M625.15 1284.72h0M625.29 1279.74h0M625.43 1276.91h0M625.57 1288.65h0M625.71 1289.87h0M625.85 1292.59h0M625.99 1293h0M626.13 1293.46h0M626.27 1296.48h0M626.41 1285.26h0M626.55 1283.47h0M626.69 1282.94h0M626.83 1294.78h0M626.97 1298.58h0M627.11 1302.11h0M627.25 1299.47h0M627.39 1301.01h0M627.53 1302.31h0M627.67 1294.19h0M627.8 1298.63h0M627.94 1303.01h0M628.08 1300.8h0M628.22 1299.31h0M628.36 1313.72h0M628.5 1297.36h0M628.64 1298.2h0M628.78 1310.48h0M628.92 1300.68h0M629.06 1307.09h0M629.2 1308.71h0M629.34 1315.18h0M629.48 1305.82h0M629.62 1295.87h0M629.76 1311.42h0M629.9 1319.93h0M630.04 1314.47h0M630.18 1320.47h0M630.32 1319.99h0M630.45 1320.66h0M630.59 1318.99h0M630.73 1316.33h0M630.87 1322.52h0M631.01 1323.99h0M631.15 1323.61h0M631.29 1317.8h0M631.43 1324.98h0M631.57 1324.71h0M631.71 1329.87h0M631.85 1316.45h0M631.99 1329.55h0M632.13 1324.3h0M632.27 1314.53h0M632.41 1322.87h0M632.55 1330.5h0M632.69 1324.61h0M632.83 1324.46h0M632.97 1319.47h0M633.1 1325.21h0M633.24 1329.32h0M633.38 1327.33h0M633.52 1320.69h0M633.66 1338.39h0M633.8 1319.9h0M633.94 1330.15h0M634.08 1335.29h0M634.22 1326.51h0M634.36 1328.95h0M634.5 1328.47h0M634.64 1330.9h0M634.78 1340.57h0M634.92 1325.14h0M635.06 1340.64h0M635.2 1337.64h0M635.34 1335.22h0M635.48 1330.48h0M635.62 1341.21h0M635.75 1333.3h0M635.89 1330.78h0M636.03 1334.85h0M636.17 1339.38h0M636.31 1338.94h0M636.45 1333.68h0M636.59 1342.51h0M636.73 1340.28h0M636.87 1349.3h0M637.01 1338.48h0M637.15 1333.86h0M637.29 1332.78h0M637.43 1337.52h0M637.57 1334.26h0M637.71 1336.4h0M637.85 1342.04h0M637.99 1354.47h0M638.13 1354.76h0M638.27 1338.19h0M638.4 1346h0M638.54 1334.93h0M638.68 1357.65h0M638.82 1360.44h0M638.96 1350.99h0M639.1 1335.13h0M639.24 1359.17h0M639.38 1362.48h0M639.52 1341.56h0M639.66 1344.99h0M639.8 1346.59h0M639.94 1362.5h0M640.08 1356.29h0M640.22 1354.67h0M640.36 1346.2h0M640.5 1356.67h0M640.64 1344.7h0M640.78 1344.01h0M640.92 1362.75h0M641.05 1355.64h0M641.19 1339.95h0M641.33 1344.19h0M641.47 1349.29h0M641.61 1350.6h0M641.75 1342.82h0M641.89 1353.49h0M642.03 1360.2h0M642.17 1347.55h0M642.31 1370.09h0M642.45 1367.08h0M642.59 1345.79h0M642.73 1363.63h0M642.87 1352.14h0M643.01 1357.95h0M643.15 1365.12h0M643.29 1346.87h0M643.43 1366.62h0M643.57 1356.33h0M643.7 1358.59h0M643.84 1348.67h0M643.98 1366.53h0M644.12 1373.96h0M644.26 1366.76h0M644.4 1348.96h0M644.54 1373.54h0M644.68 1367.34h0M644.82 1357.89h0M644.96 1352.1h0M645.1 1365.46h0M645.24 1360.57h0M645.38 1367.04h0M645.52 1371.95h0M645.66 1358.59h0M645.8 1365.11h0M645.94 1371.15h0M646.08 1361.6h0M646.22 1374.17h0M646.35 1359.08h0M646.49 1363.85h0M646.63 1366.69h0M646.77 1370.59h0M646.91 1367.45h0M647.05 1372.44h0M647.19 1363.25h0M647.33 1368.55h0M647.47 1361.86h0M647.61 1374.24h0M647.75 1367.98h0M647.89 1377.36h0M648.03 1361.46h0M648.17 1365.95h0M648.31 1363.99h0M648.45 1368.07h0M648.59 1364.58h0M648.73 1371.86h0M648.87 1370.39h0M649 1362.45h0M649.14 1363.66h0M649.28 1366.45h0M649.42 1380.41h0M649.56 1364.39h0M649.7 1378.37h0M649.84 1373.2h0M649.98 1368.15h0M650.12 1368h0M650.26 1372.18h0M650.4 1370.62h0M650.54 1372.94h0M650.68 1368.43h0M650.82 1374.25h0M650.96 1368.78h0M651.1 1373.89h0M651.24 1374.24h0M651.38 1385.11h0M651.52 1381.31h0M651.66 1379.66h0M651.79 1379.31h0M651.93 1369.42h0M652.07 1379.47h0M652.21 1384.22h0M652.35 1373.27h0M652.49 1380.64h0M652.63 1382.62h0M652.77 1369.38h0M652.91 1364.48h0M653.05 1362.96h0M653.19 1387.73h0M653.33 1386.72h0M653.47 1375.62h0M653.61 1368.55h0M653.75 1388.45h0M653.89 1374.05h0M654.03 1387.87h0M654.17 1370.68h0M654.31 1377.57h0M654.44 1379.18h0M654.58 1381.64h0M654.72 1373.45h0M654.86 1377.3h0M655 1385.18h0M655.14 1379.38h0M655.28 1378.89h0M655.42 1374.74h0M655.56 1385.36h0M655.7 1384.24h0M655.84 1391.64h0M655.98 1377.59h0M656.12 1375.71h0M656.26 1389.27h0M656.4 1388.46h0M656.54 1391.28h0M656.68 1379.34h0M656.82 1367.73h0M656.96 1388.15h0M657.09 1391.03h0M657.23 1377.31h0M657.37 1374.16h0M657.51 1390.34h0M657.65 1391.53h0M657.79 1371.86h0M657.93 1392.19h0M658.07 1398.01h0M658.21 1382.74h0M658.35 1389.75h0M658.49 1370.41h0M658.63 1395.08h0M658.77 1386.64h0M658.91 1387.6h0M659.05 1391.84h0M659.19 1395.53h0M659.33 1374.08h0M659.47 1393.28h0M659.61 1389.92h0M659.74 1381.17h0M659.88 1377.44h0M660.02 1378.94h0M660.16 1390.62h0M660.3 1387.95h0M660.44 1391.12h0M660.58 1378.54h0M660.72 1371.89h0M660.86 1388.78h0M661 1383.37h0M661.14 1387.68h0M661.28 1383.13h0M661.42 1387.68h0M661.56 1382.57h0M661.7 1382.62h0M661.84 1390.55h0M661.98 1388.19h0M662.12 1382.9h0M662.26 1381.7h0M662.39 1380.86h0M662.53 1392.93h0M662.67 1380.38h0M662.81 1397.92h0M662.95 1387.35h0M663.09 1388.18h0M663.23 1395.44h0M663.37 1393.43h0M663.51 1394.21h0M663.65 1390.41h0M663.79 1386.09h0M663.93 1393.53h0M664.07 1393.72h0M664.21 1395.29h0M664.35 1380.76h0M664.49 1399.02h0M664.63 1399.39h0M664.77 1379.22h0M664.91 1395.92h0M665.04 1397.31h0M665.18 1397.42h0M665.32 1392.67h0M665.46 1400.34h0M665.6 1401.24h0M665.74 1375.93h0M665.88 1397.09h0M666.02 1391.61h0M666.16 1403.86h0M666.3 1378.74h0M666.44 1389.1h0M666.58 1404.29h0M666.72 1379.78h0M666.86 1387.13h0M667 1391.39h0M667.14 1390.67h0M667.28 1391.76h0M667.42 1384.46h0M667.56 1399.86h0M667.69 1379.96h0M667.83 1396.93h0M667.97 1400.48h0M668.11 1378.41h0M668.25 1398.51h0M668.39 1388.29h0M668.53 1392.95h0M668.67 1395.4h0M668.81 1397.57h0M668.95 1389.41h0M669.09 1389.27h0M669.23 1390.65h0M669.37 1381.37h0M669.51 1403.61h0M669.65 1390.48h0M669.79 1397.09h0M669.93 1382.18h0M670.07 1401.9h0M670.21 1391.89h0M670.34 1395.99h0M670.48 1383.04h0M670.62 1397.86h0M670.76 1393.01h0M670.9 1402.3h0M671.04 1386.86h0M671.18 1402.08h0M671.32 1387.43h0M671.46 1381.96h0M671.6 1384.57h0M671.74 1396.23h0M671.88 1392.02h0M672.02 1387.6h0M672.16 1390.61h0M672.3 1396.58h0M672.44 1398.03h0M672.58 1390.94h0M672.72 1402.23h0M672.86 1390.05h0M672.99 1390.05h0M673.13 1393.62h0M673.27 1387.61h0M673.41 1395.93h0M673.55 1388.98h0M673.69 1405.12h0M673.83 1387.21h0M673.97 1403.57h0M674.11 1391.42h0M674.25 1395.47h0M674.39 1383.93h0M674.53 1384.21h0M674.67 1402.28h0M674.81 1406.5h0M674.95 1400.72h0M675.09 1392.8h0M675.23 1391.26h0M675.37 1385.79h0M675.51 1398.82h0M675.64 1401.73h0M675.78 1385.89h0M675.92 1388.7h0M676.06 1384.52h0M676.2 1394.86h0M676.34 1400.62h0M676.48 1406.72h0M676.62 1392.37h0M676.76 1406.27h0M676.9 1407.07h0M677.04 1409.8h0M677.18 1390.92h0M677.32 1387.29h0M677.46 1386.9h0M677.6 1391.59h0M677.74 1390.62h0M677.88 1398.5h0M678.02 1408.09h0M678.16 1397.43h0M678.29 1391.73h0M678.43 1387.23h0M678.57 1388.89h0M678.71 1407.45h0M678.85 1403.8h0M678.99 1403.13h0M679.13 1407.33h0M679.27 1382.96h0M679.41 1399.4h0M679.55 1394.42h0M679.69 1383.86h0M679.83 1395.71h0M679.97 1394.72h0M680.11 1394.28h0M680.25 1390.49h0M680.39 1392.3h0M680.53 1399.69h0M680.67 1408.37h0M680.81 1386.33h0M680.94 1384.47h0M681.08 1407.25h0M681.22 1385.83h0M681.36 1396.29h0M681.5 1389.73h0M681.64 1395.73h0M681.78 1411.65h0M681.92 1411.57h0M682.06 1398.9h0M682.2 1398.44h0M682.34 1406.4h0M682.48 1393.61h0M682.62 1392.56h0M682.76 1397.57h0M682.9 1394.97h0M683.04 1398.13h0M683.18 1407.24h0M683.32 1406.91h0M683.46 1405.24h0M683.59 1388.63h0M683.73 1393.89h0M683.87 1396.93h0M684.01 1398.74h0M684.15 1390.66h0M684.29 1391.06h0M684.43 1387.14h0M684.57 1405.45h0M684.71 1404.75h0M684.85 1399.53h0M684.99 1404.73h0M685.13 1395.36h0M685.27 1391.27h0M685.41 1389.43h0M685.55 1393.48h0M685.69 1393.33h0M685.83 1401.22h0M685.97 1405.02h0M686.11 1400.47h0M686.24 1410.48h0M686.38 1399.48h0M686.52 1396.41h0M686.66 1402.92h0M686.8 1395.01h0M686.94 1397.61h0M687.08 1385.63h0M687.22 1403.78h0M687.36 1414.58h0M687.5 1411.86h0M687.64 1399.16h0M687.78 1386.74h0M687.92 1403.62h0M688.06 1388.19h0M688.2 1392.94h0M688.34 1400.3h0M688.48 1405.33h0M688.62 1390.67h0M688.76 1391.72h0M688.89 1401.65h0M689.03 1390.14h0M689.17 1399.48h0M689.31 1389.7h0M689.45 1407.33h0M689.59 1404.69h0M689.73 1390.53h0M689.87 1409.08h0M690.01 1410.81h0M690.15 1401.97h0M690.29 1391.1h0M690.43 1405.17h0M690.57 1389.45h0M690.71 1407.88h0M690.85 1393.74h0M690.99 1402.39h0M691.13 1402.02h0M691.27 1391.05h0M691.41 1404.69h0M691.54 1400.78h0M691.68 1387.06h0M691.82 1403.36h0M691.96 1392.49h0M692.1 1392.11h0M692.24 1415.99h0M692.38 1391.94h0M692.52 1404.73h0M692.66 1383.6h0M692.8 1398.07h0M692.94 1416.39h0M693.08 1382.75h0M693.22 1403.39h0M693.36 1388.35h0M693.5 1414.38h0M693.64 1387.96h0M693.78 1405.87h0M693.92 1390.63h0M694.06 1415.42h0M694.19 1396.66h0M694.33 1402.11h0M694.47 1403.29h0M694.61 1397.04h0M694.75 1407.93h0M694.89 1417.38h0M695.03 1413.1h0M695.17 1395.57h0M695.31 1398.56h0M695.45 1409.53h0M695.59 1413.28h0M695.73 1389.5h0M695.87 1384.21h0M696.01 1407.91h0M696.15 1399.13h0M696.29 1398.45h0M696.43 1410.65h0M696.57 1385.52h0M696.71 1405.68h0M696.84 1399.4h0M696.98 1392.13h0M697.12 1390.04h0M697.26 1401.2h0M697.4 1410.69h0M697.54 1398.29h0M697.68 1391.23h0M697.82 1409h0M697.96 1391.91h0M698.1 1400.72h0M698.24 1408.01h0M698.38 1399.87h0M698.52 1406.26h0M698.66 1404.92h0M698.8 1397.93h0M698.94 1394.08h0M699.08 1400.97h0M699.22 1395.86h0M699.36 1398.2h0M699.49 1403.52h0M699.63 1403.89h0M699.77 1401.01h0M699.91 1391.96h0M700.05 1398.78h0M700.19 1410.37h0M700.33 1405.14h0M700.47 1396.9h0M700.61 1396.3h0M700.75 1401.09h0M700.89 1393.32h0M701.03 1402.8h0M701.17 1393.79h0M701.31 1392.06h0M701.45 1392.45h0M701.59 1402.1h0M701.73 1407.24h0M701.87 1412.73h0M702.01 1412.04h0M702.14 1402.85h0M702.28 1414.32h0M702.42 1400.16h0M702.56 1413.01h0M702.7 1401.41h0M702.84 1386.83h0M702.98 1392.66h0M703.12 1406.71h0M703.26 1391.72h0M703.4 1411.85h0M703.54 1405.1h0M703.68 1404.6h0M703.82 1392.97h0M703.96 1414.63h0M704.1 1398.42h0M704.24 1412.71h0M704.38 1400.47h0M704.52 1409.07h0M704.66 1388.12h0M704.79 1410.1h0M704.93 1392.42h0M705.07 1403.46h0M705.21 1399.68h0M705.35 1414.15h0M705.49 1410.46h0M705.63 1416.35h0M705.77 1415.62h0M705.91 1401.79h0M706.05 1395.78h0M706.19 1404.5h0M706.33 1397.84h0M706.47 1410.72h0M706.61 1402.35h0M706.75 1413.48h0M706.89 1387.45h0M707.03 1390.1h0M707.17 1416.15h0M707.31 1402.4h0M707.45 1398.03h0M707.58 1401.66h0M707.72 1394.3h0M707.86 1387.94h0M708 1391.14h0M708.14 1417.79h0M708.28 1402.81h0M708.42 1410.58h0M708.56 1394.9h0M708.7 1412.4h0M708.84 1415.67h0M708.98 1396.65h0M709.12 1397.14h0M709.26 1406.39h0M709.4 1398.69h0M709.54 1403.19h0M709.68 1405.39h0M709.82 1410.04h0M709.96 1406.99h0M710.1 1413.32h0M710.23 1392.03h0M710.37 1397.8h0M710.51 1404.82h0M710.65 1393.86h0M710.79 1387.96h0M710.93 1391.27h0M711.07 1401.86h0M711.21 1403.3h0M711.35 1416.9h0M711.49 1416.33h0M711.63 1409.52h0M711.77 1393.83h0M711.91 1411.14h0M712.05 1408.23h0M712.19 1411.1h0M712.33 1394.04h0M712.47 1410.9h0M712.61 1404.24h0M712.75 1404.44h0M712.88 1403.45h0M713.02 1410.27h0M713.16 1396.4h0M713.3 1407h0M713.44 1395.49h0M713.58 1404.08h0M713.72 1404.68h0M713.86 1401.29h0M714 1406.89h0M714.14 1396.45h0M714.28 1397.65h0M714.42 1392.31h0M714.56 1396.79h0M714.7 1407.37h0M714.84 1407.24h0M714.98 1396.46h0M715.12 1408.67h0M715.26 1399.85h0M715.4 1410.6h0M715.53 1405.04h0M715.67 1413.15h0M715.81 1392.45h0M715.95 1403.26h0M716.09 1408.84h0M716.23 1392.39h0M716.37 1393.41h0M716.51 1388.76h0M716.65 1401.53h0M716.79 1415.52h0M716.93 1415.09h0M717.07 1414.36h0M717.21 1407.75h0M717.35 1406.79h0M717.49 1404.06h0M717.63 1400.49h0M717.77 1399.99h0M717.91 1415.21h0M718.05 1395.57h0M718.18 1394.06h0M718.32 1388.36h0M718.46 1403.04h0M718.6 1391.07h0M718.74 1411.42h0M718.88 1401.99h0M719.02 1415.06h0M719.16 1394.47h0M719.3 1404.1h0M719.44 1393.6h0M719.58 1404.34h0M719.72 1413.02h0M719.86 1394.21h0M720 1404.82h0M720.14 1388.82h0M720.28 1392.5h0M720.42 1408.74h0M720.56 1397.98h0M720.7 1402.99h0M720.83 1408.91h0M720.97 1402.7h0M721.11 1406.93h0M721.25 1390.75h0M721.39 1411.09h0M721.53 1394.69h0M721.67 1414.97h0M721.81 1401.4h0M721.95 1405.7h0M722.09 1393.54h0M722.23 1420.65h0M722.37 1394.09h0M722.51 1425.12h0M722.65 1397.39h0M722.79 1393.32h0M722.93 1392.85h0M723.07 1418.94h0M723.21 1407.66h0M723.35 1397.43h0M723.48 1416.57h0M723.62 1409.5h0M723.76 1413.74h0M723.9 1390.52h0M724.04 1395.07h0M724.18 1415.31h0M724.32 1403.52h0M724.46 1400.97h0M724.6 1389.47h0M724.74 1395.25h0M724.88 1414.33h0M725.02 1406.37h0M725.16 1395.81h0M725.3 1388.36h0M725.44 1410.56h0M725.58 1393.6h0M725.72 1398.76h0M725.86 1403.54h0M726 1393.58h0M726.13 1400.64h0M726.27 1395.26h0M726.41 1402.28h0M726.55 1397.52h0M726.69 1398.43h0M726.83 1397.01h0M726.97 1407.34h0M727.11 1403.39h0M727.25 1404.12h0M727.39 1404.52h0M727.53 1402.88h0M727.67 1396.79h0M727.81 1408.15h0M727.95 1405.49h0M728.09 1399.87h0M728.23 1399.13h0M728.37 1406.81h0M728.51 1404.72h0M728.65 1398.56h0M728.78 1393.19h0M728.92 1408.36h0M729.06 1400.73h0M729.2 1403.93h0M729.34 1403.93h0M729.48 1399.37h0M729.62 1408.14h0M729.76 1393.82h0M729.9 1406.18h0M730.04 1403.11h0M730.18 1414.15h0M730.32 1392.54h0M730.46 1397.98h0M730.6 1405.11h0M730.74 1406.37h0M730.88 1408.15h0M731.02 1412.6h0M731.16 1395.81h0M731.3 1401.63h0M731.43 1405.33h0M731.57 1408.24h0M731.71 1410.92h0M731.85 1401.62h0M731.99 1393.58h0M732.13 1418.33h0M732.27 1411.03h0M732.41 1407.55h0M732.55 1411.31h0M732.69 1416.47h0M732.83 1409.73h0M732.97 1389.96h0M733.11 1418.08h0M733.25 1403.66h0M733.39 1392.66h0M733.53 1393.05h0M733.67 1406.36h0M733.81 1390.6h0M733.95 1387.86h0M734.08 1414.06h0M734.22 1414.83h0M734.36 1387.93h0M734.5 1398.28h0M734.64 1418.08h0M734.78 1405.28h0M734.92 1393.73h0M735.06 1391.31h0M735.2 1414.66h0M735.34 1400.83h0M735.48 1410.69h0M735.62 1405.56h0M735.76 1408.02h0M735.9 1391.21h0M736.04 1393.61h0M736.18 1406.98h0M736.32 1406.66h0M736.46 1390.19h0M736.6 1409.54h0M736.73 1399.29h0M736.87 1403.1h0M737.01 1414.84h0M737.15 1415.75h0M737.29 1392.99h0M737.43 1400.73h0M737.57 1406.75h0M737.71 1409.66h0M737.85 1413.07h0M737.99 1412.61h0M738.13 1404.68h0M738.27 1390.74h0M738.41 1395.39h0M738.55 1393.79h0M738.69 1405.18h0M738.83 1406.46h0M738.97 1415.1h0M739.11 1401.49h0M739.25 1416.39h0M739.38 1397.21h0M739.52 1404.92h0M739.66 1392.31h0M739.8 1393.6h0M739.94 1407.57h0M740.08 1393.22h0M740.22 1405.46h0M740.36 1391.24h0M740.5 1414.9h0M740.64 1417.18h0M740.78 1400.31h0M740.92 1405.09h0M741.06 1408.86h0M741.2 1401.9h0M741.34 1391.61h0M741.48 1413.56h0M741.62 1412.63h0M741.76 1395.16h0M741.9 1386.92h0M742.03 1403.6h0M742.17 1410.46h0M742.31 1387.65h0M742.45 1397.07h0M742.59 1399.84h0M742.73 1391.4h0M742.87 1415.04h0M743.01 1398.86h0M743.15 1391.79h0M743.29 1400.87h0M743.43 1403.96h0M743.57 1395.8h0M743.71 1413.23h0M743.85 1413.36h0M743.99 1394.88h0M744.13 1399.76h0M744.27 1406.89h0M744.41 1402.6h0M744.55 1400.06h0M744.68 1392.84h0M744.82 1392.09h0M744.96 1386.76h0M745.1 1381.58h0M745.24 1379.1h0M745.38 1373.13h0M745.52 1367.08h0M745.66 1361.49h0M745.8 1355.88h0M745.94 1351.25h0M746.08 1343.85h0M746.22 1334.71h0M746.36 1326.71h0M746.5 1318.3h0M746.64 1309.96h0M746.78 1299.37h0M746.92 1287.16h0M747.06 1275.51h0M747.2 1265.23h0M747.33 1252.62h0M747.47 1233.11h0M747.61 1221.96h0M747.75 1194.3h0M747.89 1193.08h0M748.03 1113.18h0M748.17 1024.66h0M748.31 1022.81h0M748.45 927.83h0M748.59 891.08h0M748.73 859.97h0M748.87 860.77h0M749.01 859.32h0M749.15 860.4h0M749.29 864.09h0M749.43 866.11h0M749.57 870.29h0M749.71 870.66h0M749.85 871.02h0M749.98 876.03h0M750.12 874.43h0M750.26 875.37h0M750.4 883.28h0M750.54 882.87h0M750.68 884.31h0M750.82 886.89h0M750.96 888.38h0M751.1 892.24h0M751.24 891.96h0M751.38 894.77h0M751.52 897.12h0M751.66 894.17h0M751.8 898.29h0M751.94 899.08h0M752.08 903.48h0M752.22 898.97h0M752.36 909.9h0M752.5 906.23h0M752.63 911.98h0M752.77 912.11h0M752.91 912.9h0M753.05 913.22h0M753.19 910.14h0M753.33 918.46h0M753.47 915.09h0M753.61 916.78h0M753.75 918.82h0M753.89 923.67h0M754.03 920.4h0M754.17 920.31h0M754.31 924.79h0M754.45 920.79h0M754.59 923.65h0M754.73 930.66h0M754.87 927.4h0M755.01 930.97h0M755.15 928.83h0M755.28 927.71h0M755.42 931.55h0M755.56 936.51h0M755.7 930.91h0M755.84 933.71h0M755.98 933.3h0M756.12 937.45h0M756.26 936.7h0M756.4 940.61h0M756.54 939.28h0M756.68 938.84h0M756.82 942.83h0M756.96 939.12h0M757.1 942.72h0M757.24 941.46h0M757.38 943.73h0M757.52 945.61h0M757.66 944.3h0M757.8 946.11h0M757.93 948.66h0M758.07 948.26h0M758.21 946.69h0M758.35 945.58h0M758.49 950.36h0M758.63 948.15h0M758.77 951.88h0M758.91 948.92h0M759.05 951.17h0M759.19 951.53h0M759.33 955.82h0M759.47 955.44h0M759.61 951.33h0M759.75 953.4h0M759.89 957.42h0M760.03 954.86h0M760.17 955.35h0M760.31 964.15h0M760.45 960.56h0M760.59 959h0M760.72 958.35h0M760.86 955.75h0M761 955.33h0M761.14 966.45h0M761.28 954.18h0M761.42 952.74h0M761.56 953.78h0M761.7 950.67h0M761.84 971.55h0M761.98 971.01h0M762.12 960.37h0M762.26 970.67h0M762.4 968.7h0M762.54 951.88h0M762.68 956.67h0M762.82 968.94h0M762.96 969.72h0M763.1 969.72h0M763.24 973.52h0M763.37 971.1h0M763.51 969.43h0M763.65 956.81h0M763.79 962.31h0M763.93 968.99h0M764.07 969.23h0M764.21 970.64h0M764.35 964.29h0M764.49 967.63h0M764.63 972.43h0M764.77 965.46h0M764.91 962.08h0M765.05 963.11h0M765.19 970.79h0M765.33 971.39h0M765.47 968.23h0M765.61 964.74h0M765.75 974.57h0M765.89 963.14h0M766.02 973.75h0M766.16 972.26h0M766.3 969.59h0M766.44 974.99h0M766.58 970.25h0M766.72 962.33h0M766.86 962.1h0M767 974.7h0M767.14 964.09h0M767.28 970.62h0M767.42 971.04h0M767.56 963.85h0M767.7 967.79h0M767.84 973.34h0M767.98 968.65h0M768.12 965.28h0M768.26 972.03h0M768.4 969.93h0M768.54 968.93h0M768.67 975.88h0M768.81 960.46h0M768.95 962.57h0M769.09 977.85h0M769.23 978.77h0M769.37 966.66h0M769.51 971.28h0M769.65 975.27h0M769.79 966.45h0M769.93 976.09h0M770.07 975.18h0M770.21 970.37h0M770.35 973.57h0M770.49 976.66h0M770.63 963.25h0M770.77 963.56h0M770.91 974.2h0M771.05 970.27h0M771.19 978.02h0M771.32 961.97h0M771.46 965.23h0M771.6 963.63h0M771.74 977.77h0M771.88 975.82h0M772.02 981.15h0M772.16 977.52h0M772.3 976.05h0M772.44 973.05h0M772.58 967.09h0M772.72 967.67h0M772.86 967.8h0M773 965.44h0M773.14 975.58h0M773.28 978.33h0M773.42 972.8h0M773.56 963.54h0M773.7 974.41h0M773.84 971.13h0M773.97 974.59h0M774.11 964.24h0M774.25 968.1h0M774.39 977.18h0M774.53 971.51h0M774.67 975.22h0M774.81 967.35h0M774.95 976.76h0M775.09 964.73h0M775.23 964.85h0M775.37 975.69h0M775.51 972.82h0M775.65 961.1h0M775.79 973.72h0M775.93 971.99h0M776.07 967.75h0M776.21 964.14h0M776.35 965.37h0M776.49 973.45h0M776.62 970.85h0M776.76 974.49h0M776.9 966.55h0M777.04 973.33h0M777.18 978.94h0M777.32 963.59h0M777.46 965.75h0M777.6 979.4h0M777.74 973.02h0M777.88 966.16h0M778.02 969.55h0M778.16 969.56h0M778.3 964.97h0M778.44 972.35h0M778.58 979.32h0M778.72 977.53h0M778.86 961.9h0M779 980.92h0M779.14 963.6h0M779.27 968.92h0M779.41 962.78h0M779.55 973.3h0M779.69 971.11h0M779.83 984.31h0M779.97 976h0M780.11 967.53h0M780.25 981.08h0M780.39 966.45h0M780.53 963.48h0M780.67 970.98h0M780.81 974.71h0M780.95 965.33h0M781.09 972.84h0M781.23 976.24h0M781.37 971.42h0M781.51 974.31h0M781.65 977.19h0M781.79 973.61h0M781.92 971.86h0M782.06 967.36h0M782.2 966.35h0M782.34 966.84h0M782.48 966.99h0M782.62 969.19h0M782.76 973.21h0M782.9 968.49h0M783.04 967.75h0M783.18 973.09h0M783.32 972.42h0M783.46 968.53h0M783.6 970.87h0M783.74 977.39h0M783.88 985.39h0M784.02 986.41h0M784.16 990.62h0M784.3 996.53h0M784.44 996.49h0M784.57 1000.42h0M784.71 1005.36h0M784.85 1014.47h0M784.99 1015.17h0M785.13 1018.03h0M785.27 1017.63h0M785.41 1018.72h0M785.55 1024.33h0M785.69 1029.55h0M785.83 1033.86h0M785.97 1041.36h0M786.11 1046.77h0M786.25 1040.21h0M786.39 1053.29h0M786.53 1052.55h0M786.67 1051.37h0M786.81 1054.98h0M786.95 1056.41h0M787.09 1069.62h0M787.22 1068.97h0M787.36 1061.62h0M787.5 1063.55h0M787.64 1079.73h0M787.78 1085.87h0M787.92 1071.14h0M788.06 1074.86h0M788.2 1097.83h0M788.34 1079.62h0M788.48 1085.92h0M788.62 1098.35h0M788.76 1098.43h0M788.9 1100.47h0M789.04 1101.84h0M789.18 1110.02h0M789.32 1110.89h0M789.46 1104.99h0M789.6 1125.86h0M789.74 1114.76h0M789.87 1110.54h0M790.01 1129.48h0M790.15 1120.18h0M790.29 1129.91h0M790.43 1139.19h0M790.57 1123.22h0M790.71 1130.83h0M790.85 1136.74h0M790.99 1142.31h0M791.13 1137.72h0M791.27 1150.83h0M791.41 1149.09h0M791.55 1149.62h0M791.69 1148.81h0M791.83 1161.57h0M791.97 1162.07h0M792.11 1150.25h0M792.25 1154.29h0M792.39 1164.95h0M792.52 1171.21h0M792.66 1166.01h0M792.8 1165.23h0M792.94 1175.25h0M793.08 1172.96h0M793.22 1174.62h0M793.36 1176.2h0M793.5 1178.59h0M793.64 1182.95h0M793.78 1184.02h0M793.92 1176.53h0M794.06 1178.31h0M794.2 1187.96h0M794.34 1195.46h0M794.48 1187.39h0M794.62 1187.17h0M794.76 1187.53h0M794.9 1200.36h0M795.04 1205.22h0M795.17 1196.76h0M795.31 1209.17h0M795.45 1203.32h0M795.59 1200.01h0M795.73 1199.94h0M795.87 1213.86h0M796.01 1215.25h0M796.15 1213.79h0M796.29 1217.52h0M796.43 1217.11h0M796.57 1216.87h0M796.71 1217.14h0M796.85 1221.02h0M796.99 1227.82h0M797.13 1226.02h0M797.27 1220.63h0M797.41 1231.34h0M797.55 1233.11h0M797.69 1225.83h0M797.82 1227.18h0M797.96 1231.07h0M798.1 1229.38h0M798.24 1236.63h0M798.38 1231.49h0M798.52 1233.07h0M798.66 1235.95h0M798.8 1237.16h0M798.94 1233.45h0M799.08 1236.29h0M799.22 1244.29h0M799.36 1247.37h0M799.5 1247.46h0M799.64 1244.96h0M799.78 1255.41h0M799.92 1252.29h0M800.06 1258.16h0M800.2 1251.67h0M800.34 1251.47h0M800.47 1241.24h0M800.61 1246.96h0M800.75 1258.68h0M800.89 1252.35h0M801.03 1269.06h0M801.17 1272.51h0M801.31 1248.97h0M801.45 1255.87h0M801.59 1253.55h0M801.73 1270.4h0M801.87 1253.74h0M802.01 1270.93h0M802.15 1272.67h0M802.29 1268.67h0M802.43 1278.02h0M802.57 1280.8h0M802.71 1277.2h0M802.85 1275.44h0M802.99 1284.61h0M803.12 1270.37h0M803.26 1270.5h0M803.4 1285.7h0M803.54 1282.9h0M803.68 1269.84h0M803.82 1281.5h0M803.96 1278.74h0M804.1 1279.24h0M804.24 1284.83h0M804.38 1282.4h0M804.52 1283.64h0M804.66 1290.25h0M804.8 1280.35h0M804.94 1286.22h0M805.08 1287.73h0M805.22 1284.11h0M805.36 1293.45h0M805.5 1296.5h0M805.64 1280.97h0M805.77 1293.65h0M805.91 1294.72h0M806.05 1286.18h0M806.19 1303.49h0M806.33 1302.51h0M806.47 1304.49h0M806.61 1296.57h0M806.75 1291.63h0M806.89 1289.6h0M807.03 1288.79h0M807.17 1296.15h0M807.31 1291.7h0M807.45 1309.27h0M807.59 1314.34h0M807.73 1290.86h0M807.87 1315.22h0M808.01 1307.57h0M808.15 1317.44h0M808.29 1313.69h0M808.42 1311.28h0M808.56 1310.51h0M808.7 1303.74h0M808.84 1304.48h0M808.98 1316.03h0M809.12 1321.15h0M809.26 1319.23h0M809.4 1319.49h0M809.54 1318.9h0M809.68 1309.75h0M809.82 1317.82h0M809.96 1309.27h0M810.1 1323.11h0M810.24 1326.69h0M810.38 1316.41h0M810.52 1325.35h0M810.66 1327.75h0M810.8 1318.2h0M810.94 1322.81h0M811.07 1318.38h0M811.21 1320.16h0M811.35 1321.52h0M811.49 1329.21h0M811.63 1319.57h0M811.77 1330.45h0M811.91 1317.28h0M812.05 1314.79h0M812.19 1328.96h0M812.33 1323.82h0M812.47 1330.38h0M812.61 1325.25h0M812.75 1322.35h0M812.89 1324.93h0M813.03 1334.91h0M813.17 1325.89h0M813.31 1332.44h0M813.45 1334.35h0M813.59 1331.63h0M813.72 1326.05h0M813.86 1331.95h0M814 1338.75h0M814.14 1339.59h0M814.28 1336.61h0M814.42 1331.12h0M814.56 1331.58h0M814.7 1336.07h0M814.84 1329.32h0M814.98 1335.45h0M815.12 1332.34h0M815.26 1330.55h0M815.4 1341.64h0M815.54 1346.85h0M815.68 1343.21h0M815.82 1335.79h0M815.96 1335.58h0M816.1 1343.45h0M816.24 1341.18h0M816.38 1354.39h0M816.51 1343.71h0M816.65 1332.75h0M816.79 1341.33h0M816.93 1347.8h0M817.07 1352.78h0M817.21 1350.95h0M817.35 1353.21h0M817.49 1347.67h0M817.63 1345.33h0M817.77 1345.12h0M817.91 1353.54h0M818.05 1344.23h0M818.19 1345.93h0M818.33 1349.97h0M818.47 1345.77h0M818.61 1346.86h0M818.75 1347.73h0M818.89 1342.18h0M819.03 1344.66h0M819.16 1344.82h0M819.3 1351.15h0M819.44 1354.2h0M819.58 1357.21h0M819.72 1353.63h0M819.86 1360.84h0M820 1350.81h0M820.14 1354.94h0M820.28 1360.56h0M820.42 1354.57h0M820.56 1345.04h0M820.7 1359.33h0M820.84 1360.89h0M820.98 1356.25h0M821.12 1350.94h0M821.26 1360.55h0M821.4 1364.45h0M821.54 1349.65h0M821.68 1356.75h0M821.81 1352.6h0M821.95 1351.43h0M822.09 1359.22h0M822.23 1352.42h0M822.37 1360.15h0M822.51 1363.29h0M822.65 1354.82h0M822.79 1363.49h0M822.93 1357.55h0M823.07 1365.69h0M823.21 1365.77h0M823.35 1351.25h0M823.49 1364.53h0M823.63 1364.17h0M823.77 1357.4h0M823.91 1360.14h0M824.05 1359.56h0M824.19 1359.16h0M824.33 1359.04h0M824.46 1356.37h0M824.6 1364.03h0M824.74 1366.25h0M824.88 1362.48h0M825.02 1358.63h0M825.16 1367.72h0M825.3 1364.48h0M825.44 1366.48h0M825.58 1360.95h0M825.72 1370.93h0M825.86 1358.29h0M826 1370.28h0M826.14 1367.02h0M826.28 1363.22h0M826.42 1361.68h0M826.56 1373.32h0M826.7 1366.75h0M826.84 1369.66h0M826.98 1375.57h0M827.11 1362.12h0M827.25 1369.45h0M827.39 1375.21h0M827.53 1366.98h0M827.67 1372.11h0M827.81 1377.9h0M827.95 1360.29h0M828.09 1375.65h0M828.23 1369.98h0M828.37 1359.58h0M828.51 1360.53h0M828.65 1372.18h0M828.79 1369.76h0M828.93 1365.09h0M829.07 1372.12h0M829.21 1365.13h0M829.35 1378.83h0M829.49 1378.39h0M829.63 1382.07h0M829.76 1378.46h0M829.9 1380.52h0M830.04 1373.87h0M830.18 1376.96h0M830.32 1365.8h0M830.46 1363.72h0M830.6 1372.64h0M830.74 1364.76h0M830.88 1361.32h0M831.02 1375.68h0M831.16 1373.49h0M831.3 1368.27h0M831.44 1380.22h0M831.58 1369.34h0M831.72 1374.11h0M831.86 1379.34h0M832 1377.82h0M832.14 1380.26h0M832.28 1366.59h0M832.41 1370.91h0M832.55 1378.83h0M832.69 1371.88h0M832.83 1387.35h0M832.97 1369.14h0M833.11 1381.07h0M833.25 1365.86h0M833.39 1368.65h0M833.53 1371.37h0M833.67 1383.8h0M833.81 1369.36h0M833.95 1378.34h0M834.09 1375.63h0M834.23 1383.23h0M834.37 1380.35h0M834.51 1379.11h0M834.65 1372.66h0M834.79 1384.71h0M834.93 1378.99h0M835.06 1372.93h0M835.2 1373.06h0M835.34 1378.16h0M835.48 1374.49h0M835.62 1379.33h0M835.76 1374.79h0M835.9 1383.48h0M836.04 1381.25h0M836.18 1375.38h0M836.32 1376.4h0M836.46 1374.18h0M836.6 1388.08h0M836.74 1377.36h0M836.88 1379.32h0M837.02 1379.1h0M837.16 1384.04h0M837.3 1378.67h0M837.44 1381.48h0M837.58 1380.02h0M837.71 1375.76h0M837.85 1377.65h0M837.99 1386.59h0M838.13 1383.6h0M838.27 1381.04h0M838.41 1377.43h0M838.55 1379.97h0M838.69 1386.74h0M838.83 1371.95h0M838.97 1386.24h0M839.11 1379.94h0M839.25 1377.24h0M839.39 1391.88h0M839.53 1385.37h0M839.67 1386.63h0M839.81 1377.27h0M839.95 1392.29h0M840.09 1387.16h0M840.23 1391.69h0M840.36 1371.76h0M840.5 1391.06h0M840.64 1374.08h0M840.78 1399.14h0M840.92 1384.95h0M841.06 1379.3h0M841.2 1377.2h0M841.34 1389.89h0M841.48 1373.03h0M841.62 1390.52h0M841.76 1391.53h0M841.9 1390.08h0M842.04 1371.9h0M842.18 1380.84h0M842.32 1382.65h0M842.46 1381.33h0M842.6 1372.85h0M842.74 1393.73h0M842.88 1372.59h0M843.01 1380.59h0M843.15 1391.56h0M843.29 1387.49h0M843.43 1387.02h0M843.57 1398.21h0M843.71 1394.11h0M843.85 1400.09h0M843.99 1397.61h0M844.13 1393.76h0M844.27 1398.36h0M844.41 1381.27h0M844.55 1397.49h0M844.69 1393.17h0M844.83 1379.5h0M844.97 1379.02h0M845.11 1394.18h0M845.25 1391.66h0M845.39 1373.57h0M845.53 1384.87h0M845.66 1399.03h0M845.8 1387.16h0M845.94 1379.67h0M846.08 1385.79h0M846.22 1385.53h0M846.36 1391.06h0M846.5 1380.68h0M846.64 1393.46h0M846.78 1399.33h0M846.92 1385.35h0M847.06 1385.33h0M847.2 1398.5h0M847.34 1382.7h0M847.48 1401.78h0M847.62 1379.26h0M847.76 1394.33h0M847.9 1389.76h0M848.04 1388.54h0M848.18 1400.3h0M848.31 1383.98h0M848.45 1385.88h0M848.59 1396.39h0M848.73 1380.79h0M848.87 1392.71h0M849.01 1396.08h0M849.15 1396.15h0M849.29 1391.66h0M849.43 1394.88h0M849.57 1383.46h0M849.71 1376.12h0M849.85 1404.8h0M849.99 1377.05h0M850.13 1393.47h0M850.27 1391.58h0M850.41 1402.61h0M850.55 1379.64h0M850.69 1376.7h0M850.83 1400.93h0M850.96 1377.18h0M851.1 1390.88h0M851.24 1386.8h0M851.38 1380.42h0M851.52 1400.08h0M851.66 1392.37h0M851.8 1379.48h0M851.94 1407.15h0M852.08 1407.72h0M852.22 1400.28h0M852.36 1408.4h0M852.5 1392.63h0M852.64 1374.88h0M852.78 1387.41h0M852.92 1405.82h0M853.06 1410.2h0M853.2 1407.84h0M853.34 1393.39h0M853.48 1370.84h0M853.61 1389.1h0M853.75 1374.69h0M853.89 1389.14h0M854.03 1392.6h0M854.17 1411.94h0M854.31 1402.97h0M854.45 1377.11h0M854.59 1393.5h0M854.73 1395.45h0M854.87 1387.82h0M855.01 1381.41h0M855.15 1385.18h0M855.29 1388.38h0M855.43 1395.33h0M855.57 1391.86h0M855.71 1377.62h0M855.85 1375.83h0M855.99 1377.81h0M856.13 1409.47h0M856.26 1388.89h0M856.4 1392.74h0M856.54 1395.23h0M856.68 1382.81h0M856.82 1396.84h0M856.96 1382.67h0M857.1 1381.93h0M857.24 1377.83h0M857.38 1398.03h0M857.52 1405.57h0M857.66 1382.53h0M857.8 1401.63h0M857.94 1401.21h0M858.08 1401.29h0M858.22 1409.17h0M858.36 1402.41h0M858.5 1408.68h0M858.64 1393.59h0M858.78 1398.67h0M858.91 1389.66h0M859.05 1388.8h0M859.19 1404.8h0M859.33 1396.51h0M859.47 1382.94h0M859.61 1397.93h0M859.75 1391.35h0M859.89 1408.55h0M860.03 1402.23h0M860.17 1390.02h0M860.31 1397.61h0M860.45 1387.46h0M860.59 1386.56h0M860.73 1390.13h0M860.87 1392.2h0M861.01 1385.7h0M861.15 1383.21h0M861.29 1396.3h0M861.43 1384.12h0M861.56 1383.03h0M861.7 1405.12h0M861.84 1383.86h0M861.98 1390.91h0M862.12 1387.56h0M862.26 1406.19h0M862.4 1404.43h0M862.54 1393.54h0M862.68 1398.71h0M862.82 1393.31h0M862.96 1402.02h0M863.1 1405.98h0M863.24 1407.36h0M863.38 1396.22h0M863.52 1386.54h0M863.66 1390.98h0M863.8 1400.23h0M863.94 1399.95h0M864.08 1402.73h0M864.21 1403.58h0M864.35 1390.98h0M864.49 1398.47h0M864.63 1402.76h0M864.77 1390.52h0M864.91 1398.47h0M865.05 1389.42h0M865.19 1389.09h0M865.33 1386.32h0M865.47 1393.29h0M865.61 1398.17h0M865.75 1395.6h0M865.89 1387.55h0M866.03 1392.18h0M866.17 1408.08h0M866.31 1384.72h0M866.45 1400.01h0M866.59 1399.99h0M866.73 1385.25h0M866.86 1397.43h0M867 1387.88h0M867.14 1389.37h0M867.28 1404.5h0M867.42 1395.99h0M867.56 1404.89h0M867.7 1390.71h0M867.84 1399.68h0M867.98 1401.44h0M868.12 1402.09h0M868.26 1402.59h0M868.4 1401.07h0M868.54 1390.46h0M868.68 1401.83h0M868.82 1397.12h0M868.96 1395.7h0M869.1 1400.66h0M869.24 1388.97h0M869.38 1400.73h0M869.51 1406.37h0M869.65 1393.97h0M869.79 1398.8h0M869.93 1405.65h0M870.07 1389.69h0M870.21 1401.28h0M870.35 1393.57h0M870.49 1395.27h0M870.63 1386.38h0M870.77 1383.16h0M870.91 1409.15h0M871.05 1408.47h0M871.19 1400.3h0M871.33 1386.76h0M871.47 1389.44h0M871.61 1398.74h0M871.75 1408.53h0M871.89 1401.88h0M872.03 1389.96h0M872.17 1388.01h0M872.3 1411.34h0M872.44 1407.78h0M872.58 1405.66h0M872.72 1410.25h0M872.86 1389.53h0M873 1389.68h0M873.14 1387.16h0M873.28 1387.16h0M873.42 1400.51h0M873.56 1390.91h0M873.7 1386.77h0M873.84 1399.53h0M873.98 1388.96h0M874.12 1397.76h0M874.26 1384.13h0M874.4 1384.69h0M874.54 1386.22h0M874.68 1385.67h0M874.82 1410.67h0M874.95 1405.32h0M875.09 1411.16h0M875.23 1408.95h0M875.37 1397.28h0M875.51 1393.15h0M875.65 1395.67h0M875.79 1404.68h0M875.93 1388.47h0M876.07 1387.16h0M876.21 1405.92h0M876.35 1394.92h0M876.49 1388.39h0M876.63 1407.13h0M876.77 1388.68h0M876.91 1413.45h0M877.05 1407.09h0M877.19 1408.01h0M877.33 1393.75h0M877.47 1414.95h0M877.6 1406.05h0M877.74 1385.57h0M877.88 1384.47h0M878.02 1392.68h0M878.16 1399.22h0M878.3 1405.45h0M878.44 1392.58h0M878.58 1404.41h0M878.72 1405.99h0M878.86 1393.11h0M879 1390.78h0M879.14 1382.41h0M879.28 1382.98h0M879.42 1409.4h0M879.56 1409.42h0M879.7 1394.56h0M879.84 1406.63h0M879.98 1402.04h0M880.12 1397.32h0M880.25 1393.14h0M880.39 1402.26h0M880.53 1401.7h0M880.67 1404.33h0M880.81 1390.21h0M880.95 1412.37h0M881.09 1408.13h0M881.23 1391.6h0M881.37 1390.3h0M881.51 1394.69h0M881.65 1399.75h0M881.79 1397.18h0M881.93 1410h0M882.07 1412.63h0M882.21 1382.23h0M882.35 1387.6h0M882.49 1387.89h0M882.63 1401.58h0M882.77 1397.35h0M882.9 1409.08h0M883.04 1403.7h0M883.18 1389.1h0M883.32 1385.87h0M883.46 1395.23h0M883.6 1398.33h0M883.74 1386.95h0M883.88 1395.63h0M884.02 1382.86h0M884.16 1392.48h0M884.3 1403.47h0M884.44 1413.72h0M884.58 1406.08h0M884.72 1385.85h0M884.86 1405.24h0M885 1400.21h0M885.14 1406.39h0M885.28 1411.23h0M885.42 1403.7h0M885.55 1393.57h0M885.69 1399.79h0M885.83 1404.78h0M885.97 1400.21h0M886.11 1393.58h0M886.25 1393.48h0M886.39 1389.06h0M886.53 1394.86h0M886.67 1402.48h0M886.81 1399.28h0M886.95 1403.09h0M887.09 1405.95h0M887.23 1399.55h0M887.37 1396.03h0M887.51 1405.18h0M887.65 1392.06h0M887.79 1395.56h0M887.93 1391.25h0M888.07 1400.49h0M888.2 1392.6h0M888.34 1397.69h0M888.48 1388.59h0M888.62 1394.7h0M888.76 1409.06h0M888.9 1392.06h0M889.04 1386.01h0M889.18 1407.96h0M889.32 1413.92h0M889.46 1399.46h0M889.6 1390.97h0M889.74 1387.02h0M889.88 1411.17h0M890.02 1400.04h0M890.16 1397.07h0M890.3 1407.39h0M890.44 1404.53h0M890.58 1389.49h0M890.72 1387.47h0M890.85 1386.19h0M890.99 1401.57h0M891.13 1408.75h0M891.27 1412.44h0M891.41 1384.47h0M891.55 1408.03h0M891.69 1387.81h0M891.83 1390.07h0M891.97 1396.04h0M892.11 1388.3h0M892.25 1397.86h0M892.39 1391.62h0M892.53 1380.22h0M892.67 1405.7h0M892.81 1382.69h0M892.95 1413.89h0M893.09 1392.54h0M893.23 1385.55h0M893.37 1407.58h0M893.5 1416.62h0M893.64 1400.22h0M893.78 1405.34h0M893.92 1417.09h0M894.06 1408.62h0M894.2 1394.87h0M894.34 1404h0M894.48 1413.29h0M894.62 1393.55h0M894.76 1420.12h0M894.9 1389.46h0M895.04 1411.49h0M895.18 1389.69h0M895.32 1417.96h0M895.46 1408.59h0M895.6 1377.28h0M895.74 1388.19h0M895.88 1401.83h0M896.02 1409.51h0M896.15 1407.28h0M896.29 1420.22h0M896.43 1390.76h0M896.57 1387.78h0M896.71 1414.6h0M896.85 1402.72h0M896.99 1417.36h0M897.13 1409.78h0M897.27 1398.76h0M897.41 1408.97h0M897.55 1411.64h0M897.69 1385.54h0M897.83 1393.28h0M897.97 1385.33h0M898.11 1394.13h0M898.25 1396.75h0M898.39 1389.23h0M898.53 1406.64h0M898.67 1408.01h0M898.8 1411.52h0M898.94 1396.81h0M899.08 1400.18h0M899.22 1401.9h0M899.36 1395.67h0M899.5 1404.07h0M899.64 1389.4h0M899.78 1387.17h0M899.92 1383.1h0M900.06 1392.36h0M900.2 1387.07h0M900.34 1396.57h0M900.48 1389.44h0M900.62 1389.69h0M900.76 1387.31h0M900.9 1385.62h0M901.04 1396.83h0M901.18 1396.61h0M901.32 1414.27h0M901.45 1387.38h0M901.59 1390.54h0M901.73 1413.47h0M901.87 1385.98h0M902.01 1389.69h0M902.15 1403.68h0M902.29 1404.82h0M902.43 1405.68h0M902.57 1393.13h0M902.71 1396.42h0M902.85 1410.4h0M902.99 1388.21h0M903.13 1387.01h0M903.27 1398.16h0M903.41 1414.42h0M903.55 1406.23h0M903.69 1411.72h0M903.83 1390.57h0M903.97 1403.07h0M904.1 1394.91h0M904.24 1410.3h0M904.38 1400.99h0M904.52 1400.61h0M904.66 1391.05h0M904.8 1408.95h0M904.94 1392.58h0M905.08 1405.81h0M905.22 1411.14h0M905.36 1405.19h0M905.5 1397h0M905.64 1393.45h0M905.78 1406.24h0M905.92 1400.24h0M906.06 1395.71h0M906.2 1396.68h0M906.34 1405.64h0M906.48 1386.18h0M906.62 1405.75h0M906.75 1402.45h0M906.89 1413.12h0M907.03 1404.46h0M907.17 1403.42h0M907.31 1402.15h0M907.45 1388.03h0M907.59 1411.65h0M907.73 1412.44h0M907.87 1388.31h0M908.01 1400.77h0M908.15 1389.11h0M908.29 1414.13h0M908.43 1402.16h0M908.57 1398.74h0M908.71 1411.6h0M908.85 1408.51h0M908.99 1392.66h0M909.13 1385.85h0M909.27 1407.49h0M909.4 1391.32h0M909.54 1403.2h0M909.68 1391.56h0M909.82 1407.83h0M909.96 1391.18h0M910.1 1408.07h0M910.24 1408.08h0M910.38 1387.34h0M910.52 1389.07h0M910.66 1410.39h0M910.8 1397.1h0M910.94 1402.83h0M911.08 1388.05h0M911.22 1407.25h0M911.36 1411.33h0M911.5 1388.03h0M911.64 1400.63h0M911.78 1408.72h0M911.92 1387.51h0M912.05 1409.76h0M912.19 1409.41h0M912.33 1392.26h0M912.47 1414.07h0M912.61 1388.02h0M912.75 1395.69h0M912.89 1407.18h0M913.03 1413.62h0M913.17 1402.71h0M913.31 1388.07h0M913.45 1408.83h0M913.59 1396.96h0M913.73 1404.69h0M913.87 1413.55h0M914.01 1407.18h0M914.15 1399.3h0M914.29 1394.11h0M914.43 1395.44h0M914.57 1393.04h0M914.7 1409.64h0M914.84 1392.68h0M914.98 1385.23h0M915.12 1409.41h0M915.26 1395.01h0M915.4 1405.59h0M915.54 1401.68h0M915.68 1408.48h0M915.82 1410.04h0M915.96 1403.96h0" stroke="#0072BD" stroke-width="6.5" stroke-linecap="round" fill="none"/>
<path d="M134.5 1410.53V1093.19M138.25 1093.19V1410.53M235.5 1410.53V1093.19M246.5 1093.19V1410.53M386.75 1410.53V1093.19M407 1093.19V1410.53M574.75 1410.53V1093.19M605.25 1093.19V1410.53M743.75 1410.53V1093.19M783.25 1093.19V1410.53" stroke="#000" stroke-width="1.15" fill="none"/>
<path d="M119 1410.53H134.5M134.5 1093.19H138.25M138.25 1410.53H235.5M235.5 1093.19H246.5M246.5 1410.53H386.75M386.75 1093.19H407M407 1386.96h0M407 1410.53H574.75M574.75 1093.19H605.25M605.25 1111.88h0M605.25 1410.53H743.75M743.75 1093.19H783.25M783.25 1191.35h0M783.25 1410.53H916" stroke="#000" stroke-width="6.6" stroke-linecap="round" fill="none"/>
</g>
<path d="M119 799.25H916M119 1428H916M916 799.25V1428M318.25 799.25v8.5M318.25 1428v-8.5M517.5 799.25v8.5M517.5 1428v-8.5M716.75 799.25v8.5M716.75 1428v-8.5M916 1410.53h-8.5M916 1323.21h-8.5M916 1235.88h-8.5M916 1148.56h-8.5M916 1061.23h-8.5M916 973.9h-8.5M916 886.58h-8.5M916 799.25h-8.5" stroke="#262626" stroke-width="1.3" fill="none"/>
<path d="M119 798.65V1428.6M119 1428h8.5M119 1338.18h8.5M119 1248.36h8.5M119 1158.54h8.5M119 1068.71h8.5M119 978.89h8.5M119 889.07h8.5M119 799.25h8.5" stroke="#0072BD" stroke-width="1.3" fill="none"/>
<g class="tk" fill="#0072BD" stroke="#0072BD" text-anchor="end">
<text transform="translate(106.8 1440.3) scale(1 1.03)">0</text>
<text transform="translate(106.8 1350.48) scale(1 1.03)">100</text>
<text transform="translate(106.8 1260.66) scale(1 1.03)">200</text>
<text transform="translate(106.8 1170.84) scale(1 1.03)">300</text>
<text transform="translate(106.8 1081.01) scale(1 1.03)">400</text>
<text transform="translate(106.8 991.19) scale(1 1.03)">500</text>
<text transform="translate(106.8 901.37) scale(1 1.03)">600</text>
<text transform="translate(106.8 811.55) scale(1 1.03)">700</text>
</g>
<g class="tk" fill="#000" stroke="#000">
<text transform="translate(926.4 1422.83) scale(1 1.03)">0</text>
<text transform="translate(926.4 1335.51) scale(1 1.03)">5</text>
<text transform="translate(926.4 1248.18) scale(1 1.03)">10</text>
<text transform="translate(926.4 1160.86) scale(1 1.03)">15</text>
<text transform="translate(926.4 1073.53) scale(1 1.03)">20</text>
<text transform="translate(926.4 986.2) scale(1 1.03)">25</text>
<text transform="translate(926.4 898.88) scale(1 1.03)">30</text>
<text transform="translate(926.4 811.55) scale(1 1.03)">35</text>
</g>
<g class="tk" fill="#262626" stroke="#262626" text-anchor="middle">
<text transform="translate(119 1470.7) scale(1 1.03)">0</text>
<text transform="translate(318.25 1470.7) scale(1 1.03)">100</text>
<text transform="translate(517.5 1470.7) scale(1 1.03)">200</text>
<text transform="translate(716.75 1470.7) scale(1 1.03)">300</text>
<text transform="translate(916 1470.7) scale(1 1.03)">400</text>
<text x="517.2" y="1511.1">time [s]</text>
</g>
<text class="tk" fill="#0072BD" stroke="#0072BD" text-anchor="middle" transform="translate(43.1 1114.12) rotate(-90)">E [<tspan class="mu" font-size="35" dx="0.8" stroke="none">μ</tspan><tspan dx="1.2">V/m]</tspan></text>
<text class="tk" fill="#000" stroke="#000" text-anchor="middle" transform="translate(999.1 1115.12) rotate(-90)">P<tspan dy="14.7" font-size="23.7">heater</tspan><tspan dy="-14.7"> [W]</tspan></text>
<text class="pl" x="127.5" y="835.55">(b)</text>
</g>
<g id="panel-c">
<clipPath id="clip-c"><rect x="119" y="1575.5" width="797" height="628.75"/></clipPath>
<path d="M318.25 1575.5V2204.25M517.5 1575.5V2204.25M716.75 1575.5V2204.25" stroke="#DEDEDE" stroke-width="1.5" fill="none"/>
<path d="M119 2134.39H916M119 2064.53H916M119 1994.67H916M119 1924.81H916M119 1854.94H916M119 1785.08H916M119 1715.22H916M119 1645.36H916" stroke="#D9EAF5" stroke-width="1.2" fill="none"/>
<g clip-path="url(#clip-c)">
<path d="M119 1973h0M126.22 1969h0M133.44 1965.75h0M140.66 1961.75h0M147.88 1956.25h0M155.1 1951.75h0M162.32 1948.5h0M169.54 1945.5h0M176.76 1942.25h0M183.98 1938.5h0M191.2 1934.5h0M198.42 1930.75h0M205.64 1927.25h0M212.86 1923.5h0M220.08 1920h0M227.3 1916.25h0M234.52 1912.25h0M241.74 1908.25h0M248.96 1901.25h0M256.18 1892.5h0M263.4 1889.75h0M270.62 1888.25h0M277.84 1885.5h0M285.06 1883.25h0M292.28 1880.75h0M299.5 1877.5h0M306.72 1874.2h0M313.94 1870.9h0M321.16 1867.5h0M328.38 1864.2h0M335.6 1860.8h0M342.82 1857.5h0M350.04 1854h0M357.26 1850.5h0M364.48 1847.25h0M371.7 1843.75h0M378.92 1840.5h0M386.14 1837.25h0M393.36 1834.25h0M400.58 1828.5h0M407.8 1819h0M415.02 1810.75h0M422.24 1806.5h0M429.46 1804.25h0M436.68 1802.5h0M443.9 1800.5h0M451.12 1798.25h0M458.34 1795.25h0M465.56 1792.5h0M472.78 1789.25h0M480 1786.25h0M487.22 1783h0M494.44 1780h0M501.66 1776.75h0M508.88 1773.5h0M516.1 1770.25h0M523.32 1767h0M530.54 1763.75h0M537.76 1760.25h0M544.98 1757h0M552.2 1753.75h0M559.42 1750.75h0M566.64 1747h0M573.86 1743.75h0M581.08 1740.5h0M588.3 1735.5h0M595.52 1725.25h0M602.74 1717.25h0M609.96 1710h0M617.18 1704.75h0M624.4 1702.25h0M631.62 1700.75h0M638.84 1698.75h0M646.06 1697h0M653.28 1694.75h0M660.5 1691.5h0M667.72 1689h0M674.94 1686.5h0M682.16 1683.5h0M689.38 1680.75h0M696.6 1677.5h0M703.82 1674.75h0M711.04 1671.5h0M718.26 1668.75h0M725.48 1665.75h0M732.7 1662.75h0M739.92 1659.25h0M747.14 1655.75h0M754.36 1651h0M761.58 1641.5h0M768.8 1633.75h0M776.02 1626.75h0M783.24 1619.5h0M790.46 1613.5h0M797.68 1610.25h0M804.9 1608.75h0M812.12 1607.25h0M819.34 1605.5h0M826.56 1604h0M833.78 1602h0M841 1599.5h0M848.22 1597h0M855.44 1594.25h0M862.66 1591.75h0M869.88 1589h0M877.1 1586.25h0M884.32 1583.5h0M891.54 1580.75h0M119 2168h0M126.22 2165h0M133.44 2162h0M140.66 2157.25h0M147.88 2142h0M155.1 2142h0M162.32 2141.5h0M169.54 2139h0M176.76 2136.75h0M183.98 2132.5h0M191.2 2130.75h0M198.42 2126.5h0M205.64 2122h0M212.86 2118.25h0M220.08 2117.25h0M227.3 2112.25h0M234.52 2108.25h0M241.74 2103.75h0M248.96 2076.75h0M256.18 2061.5h0M263.4 2074h0M270.62 2078.25h0M277.84 2079.25h0M285.06 2076.75h0M292.28 2075.25h0M299.5 2072.5h0M306.72 2071h0M313.94 2066.5h0M321.16 2064.5h0M328.38 2062h0M335.6 2058.25h0M342.82 2056.25h0M350.04 2052.75h0M357.26 2049.5h0M364.48 2047h0M371.7 2044h0M378.92 2042.5h0M386.14 2038.5h0M393.36 2037.5h0M400.58 2013.75h0M407.8 1990h0M415.02 1975.75h0M422.24 1983.25h0M429.46 1996.25h0M436.68 1999.5h0M443.9 1999h0M451.12 1999.25h0M458.34 1997.25h0M465.56 1996h0M472.78 1992.75h0M480 1989.75h0M487.22 1984.75h0M494.44 1984.25h0M501.66 1981h0M508.88 1980.75h0M516.1 1977h0M523.32 1975h0M530.54 1969.75h0M537.76 1968.25h0M544.98 1966.25h0M552.2 1963.25h0M559.42 1961h0M566.64 1961h0M573.86 1955h0M581.08 1955.25h0M588.3 1929.5h0M595.52 1905.5h0M602.74 1891.5h0M609.96 1881.25h0M617.18 1881.25h0M624.4 1898.75h0M631.62 1904.25h0M638.84 1908h0M646.06 1906.25h0M653.28 1906.25h0M660.5 1904.5h0M667.72 1902.25h0M674.94 1899h0M682.16 1898.5h0M689.38 1897.25h0M696.6 1894.75h0M703.82 1891.5h0M711.04 1888.5h0M718.26 1886.25h0M725.48 1884.75h0M732.7 1884.75h0M739.92 1879h0M747.14 1878.5h0M754.36 1856.75h0M761.58 1830.5h0M768.8 1816.25h0M776.02 1807.75h0M783.24 1796.25h0M790.46 1793.75h0M797.68 1806.75h0M804.9 1815.5h0M812.12 1821h0M819.34 1823.5h0M826.56 1822.75h0M833.78 1822h0M841 1821.5h0M848.22 1820.5h0M855.44 1818.25h0M862.66 1814.75h0M869.88 1815.75h0M877.1 1813.75h0M884.32 1811.5h0M891.54 1810.25h0" stroke="#0072BD" stroke-width="6.6" stroke-linecap="round" fill="none"/>
<path d="M134.5 2186.78V1869.44M138.25 1869.44V2186.78M235.5 2186.78V1869.44M246.5 1869.44V2186.78M386.75 2186.78V1869.44M407 1869.44V2186.78M574.75 2186.78V1869.44M605.25 1869.44V2186.78M743.75 2186.78V1869.44M783.25 1869.44V2186.78" stroke="#000" stroke-width="1.15" fill="none"/>
<path d="M134.75 2186.78H134.5M134.5 1869.44H138.25M138.25 2186.78H235.5M235.5 1869.44H246.5M246.5 2186.78H386.75M386.75 1869.44H407M407 2163.21h0M407 2186.78H574.75M574.75 1869.44H605.25M605.25 1888.13h0M605.25 2186.78H743.75M743.75 1869.44H783.25M783.25 1967.6h0M783.25 2186.78H891" stroke="#000" stroke-width="6.6" stroke-linecap="round" fill="none"/>
</g>
<path d="M119 1575.5H916M119 2204.25H916M916 1575.5V2204.25M318.25 1575.5v8.5M318.25 2204.25v-8.5M517.5 1575.5v8.5M517.5 2204.25v-8.5M716.75 1575.5v8.5M716.75 2204.25v-8.5M916 2186.78h-8.5M916 2099.46h-8.5M916 2012.13h-8.5M916 1924.81h-8.5M916 1837.48h-8.5M916 1750.15h-8.5M916 1662.83h-8.5M916 1575.5h-8.5" stroke="#262626" stroke-width="1.3" fill="none"/>
<path d="M119 1574.9V2204.85M119 2204.25h8.5M119 2134.39h8.5M119 2064.53h8.5M119 1994.67h8.5M119 1924.81h8.5M119 1854.94h8.5M119 1785.08h8.5M119 1715.22h8.5M119 1645.36h8.5M119 1575.5h8.5" stroke="#0072BD" stroke-width="1.3" fill="none"/>
<g class="tk" fill="#0072BD" stroke="#0072BD" text-anchor="end">
<text transform="translate(106.8 2216.55) scale(1 1.03)">19</text>
<text transform="translate(106.8 2146.69) scale(1 1.03)">20</text>
<text transform="translate(106.8 2076.83) scale(1 1.03)">21</text>
<text transform="translate(106.8 2006.97) scale(1 1.03)">22</text>
<text transform="translate(106.8 1937.11) scale(1 1.03)">23</text>
<text transform="translate(106.8 1867.24) scale(1 1.03)">24</text>
<text transform="translate(106.8 1797.38) scale(1 1.03)">25</text>
<text transform="translate(106.8 1727.52) scale(1 1.03)">26</text>
<text transform="translate(106.8 1657.66) scale(1 1.03)">27</text>
<text transform="translate(106.8 1587.8) scale(1 1.03)">28</text>
</g>
<g class="tk" fill="#000" stroke="#000">
<text transform="translate(926.4 2199.08) scale(1 1.03)">0</text>
<text transform="translate(926.4 2111.76) scale(1 1.03)">5</text>
<text transform="translate(926.4 2024.43) scale(1 1.03)">10</text>
<text transform="translate(926.4 1937.11) scale(1 1.03)">15</text>
<text transform="translate(926.4 1849.78) scale(1 1.03)">20</text>
<text transform="translate(926.4 1762.45) scale(1 1.03)">25</text>
<text transform="translate(926.4 1675.13) scale(1 1.03)">30</text>
<text transform="translate(926.4 1587.8) scale(1 1.03)">35</text>
</g>
<g class="tk" fill="#262626" stroke="#262626" text-anchor="middle">
<text transform="translate(119 2246.95) scale(1 1.03)">0</text>
<text transform="translate(318.25 2246.95) scale(1 1.03)">100</text>
<text transform="translate(517.5 2246.95) scale(1 1.03)">200</text>
<text transform="translate(716.75 2246.95) scale(1 1.03)">300</text>
<text transform="translate(916 2246.95) scale(1 1.03)">400</text>
<text x="517.2" y="2287.35">time [s]</text>
</g>
<text class="tk" fill="#0072BD" stroke="#0072BD" text-anchor="middle" transform="translate(60.4 1890.38) rotate(-90)">T [K]</text>
<text class="tk" fill="#000" stroke="#000" text-anchor="middle" transform="translate(999.1 1891.38) rotate(-90)">P<tspan dy="14.7" font-size="23.7">heater</tspan><tspan dy="-14.7"> [W]</tspan></text>
<text class="pl" x="127.5" y="1611.8">(c)</text>
</g>
</svg></body></html>
